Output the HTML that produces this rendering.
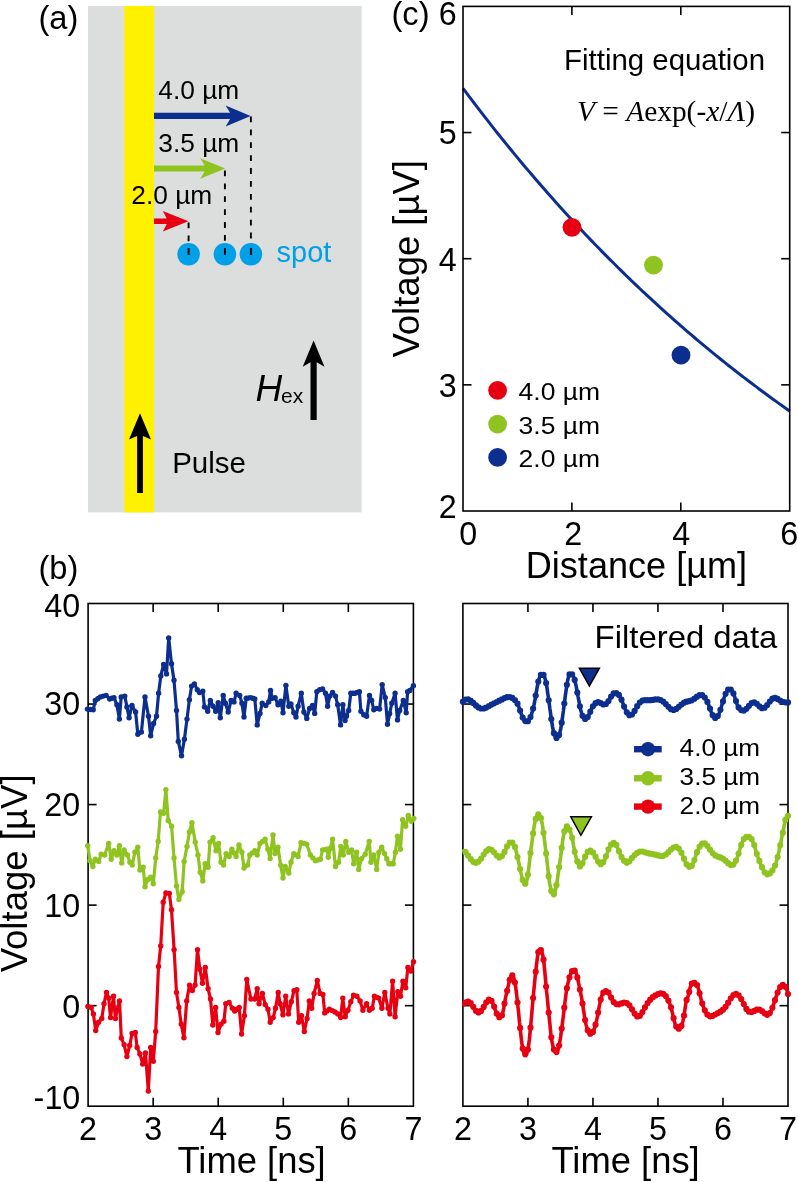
<!DOCTYPE html>
<html><head><meta charset="utf-8"><style>
html,body{margin:0;padding:0;background:#fff;width:798px;height:1182px;overflow:hidden}
svg{display:block;will-change:transform}

</style></head><body>
<svg width="798" height="1182" viewBox="0 0 798 1182"><text transform="translate(38.5,28.6) scale(0.96,1)" font-size="34" font-family="Liberation Sans, sans-serif" text-anchor="start" fill="#000" >(a)</text>
<rect x="88" y="6" width="273.6" height="506.4" fill="#DCDDDD"/>
<rect x="124.3" y="6" width="29.8" height="506.4" fill="#FFF100"/>
<path d="M154,112.85000000000001 L230.1,112.85000000000001 L225.6,105.4 L250.6,115.9 L225.6,126.4 L230.1,118.95 L154,118.95 Z" fill="#0C2E8E"/>
<path d="M154,165.4 L204.7,165.4 L200.2,158.3 L225.2,168.5 L200.2,178.7 L204.7,171.6 L154,171.6 Z" fill="#8FC31F"/>
<path d="M154,218.5 L166.8,218.5 L162.8,211.0 L188.4,221.3 L162.8,231.60000000000002 L166.8,224.10000000000002 L154,224.10000000000002 Z" fill="#E60012"/>
<line x1="250.9" y1="116.5" x2="250.9" y2="255" stroke="#000" stroke-width="1.9" stroke-dasharray="5.8 7.1"/>
<line x1="224.9" y1="170.5" x2="224.9" y2="255" stroke="#000" stroke-width="1.9" stroke-dasharray="5.8 7.1"/>
<line x1="188.6" y1="222.5" x2="188.6" y2="255" stroke="#000" stroke-width="1.9" stroke-dasharray="5.8 7.1"/>
<circle cx="188.6" cy="254.2" r="11.3" fill="#00A0E9"/>
<circle cx="224.9" cy="254.2" r="11.3" fill="#00A0E9"/>
<circle cx="250.9" cy="254.2" r="11.3" fill="#00A0E9"/>
<line x1="188.6" y1="248" x2="188.6" y2="255" stroke="#000" stroke-width="1.9"/>
<line x1="224.9" y1="248" x2="224.9" y2="255" stroke="#000" stroke-width="1.9"/>
<line x1="250.9" y1="248" x2="250.9" y2="255" stroke="#000" stroke-width="1.9"/>
<text x="158.3" y="99" font-size="26.3" font-family="Liberation Sans, sans-serif" text-anchor="start" fill="#000" >4.0 µm</text>
<text x="158.3" y="151.7" font-size="26.3" font-family="Liberation Sans, sans-serif" text-anchor="start" fill="#000" >3.5 µm</text>
<text x="131.3" y="204.4" font-size="26.3" font-family="Liberation Sans, sans-serif" text-anchor="start" fill="#000" >2.0 µm</text>
<text x="276.5" y="262.2" font-size="29" font-family="Liberation Sans, sans-serif" text-anchor="start" fill="#00A0E9" >spot</text>
<path d="M137.1,493 L137.1,436.0 L129,439.5 L140,413.2 L151,439.5 L142.9,436.0 L142.9,493 Z" fill="#000"/>
<path d="M310.5,420 L310.5,362.3 L302.70000000000005,366.7 L313.6,340.4 L324.5,366.7 L316.70000000000005,362.3 L316.70000000000005,420 Z" fill="#000"/>
<text x="255.5" y="400.7" font-size="37" font-family="Liberation Sans, sans-serif" text-anchor="start" fill="#000" font-style="italic">H</text>
<text x="281" y="402.5" font-size="21" font-family="Liberation Sans, sans-serif" text-anchor="start" fill="#000" >ex</text>
<text x="172.2" y="472.6" font-size="29.5" font-family="Liberation Sans, sans-serif" text-anchor="start" fill="#000" >Pulse</text>
<polyline points="463.00,88.30 465.72,91.95 468.44,95.57 471.17,99.18 473.89,102.77 476.61,106.35 479.33,109.90 482.06,113.43 484.78,116.94 487.50,120.44 490.23,123.91 492.95,127.37 495.67,130.81 498.39,134.23 501.12,137.63 503.84,141.01 506.56,144.37 509.28,147.72 512.00,151.05 514.73,154.36 517.45,157.65 520.17,160.92 522.89,164.18 525.62,167.42 528.34,170.64 531.06,173.84 533.78,177.03 536.51,180.20 539.23,183.35 541.95,186.49 544.67,189.60 547.40,192.71 550.12,195.79 552.84,198.86 555.57,201.91 558.29,204.94 561.01,207.96 563.73,210.97 566.46,213.95 569.18,216.92 571.90,219.87 574.62,222.81 577.35,225.73 580.07,228.64 582.79,231.53 585.51,234.41 588.24,237.26 590.96,240.11 593.68,242.94 596.40,245.75 599.12,248.55 601.85,251.33 604.57,254.10 607.29,256.85 610.01,259.59 612.74,262.31 615.46,265.02 618.18,267.71 620.91,270.39 623.63,273.06 626.35,275.71 629.07,278.34 631.80,280.97 634.52,283.57 637.24,286.17 639.96,288.75 642.69,291.31 645.41,293.86 648.13,296.40 650.85,298.92 653.58,301.43 656.30,303.93 659.02,306.42 661.74,308.88 664.47,311.34 667.19,313.78 669.91,316.21 672.63,318.63 675.36,321.04 678.08,323.43 680.80,325.80 683.52,328.17 686.25,330.52 688.97,332.86 691.69,335.19 694.41,337.50 697.13,339.80 699.86,342.09 702.58,344.37 705.30,346.64 708.02,348.89 710.75,351.13 713.47,353.36 716.19,355.57 718.92,357.78 721.64,359.97 724.36,362.15 727.08,364.32 729.81,366.48 732.53,368.62 735.25,370.75 737.97,372.88 740.70,374.99 743.42,377.09 746.14,379.17 748.86,381.25 751.59,383.32 754.31,385.37 757.03,387.41 759.75,389.45 762.48,391.47 765.20,393.48 767.92,395.48 770.64,397.46 773.37,399.44 776.09,401.41 778.81,403.37 781.53,405.31 784.26,407.25 786.98,409.17 789.70,411.09" fill="none" stroke="#0C2E8E" stroke-width="3.0"/>
<rect x="463" y="6.4" width="326.70000000000005" height="504.6" fill="none" stroke="#000" stroke-width="1.6"/>
<line x1="463" y1="384.85" x2="471.5" y2="384.85" stroke="#000" stroke-width="1.6"/>
<line x1="789.7" y1="384.85" x2="781.2" y2="384.85" stroke="#000" stroke-width="1.6"/>
<line x1="463" y1="258.7" x2="471.5" y2="258.7" stroke="#000" stroke-width="1.6"/>
<line x1="789.7" y1="258.7" x2="781.2" y2="258.7" stroke="#000" stroke-width="1.6"/>
<line x1="463" y1="132.54999999999995" x2="471.5" y2="132.54999999999995" stroke="#000" stroke-width="1.6"/>
<line x1="789.7" y1="132.54999999999995" x2="781.2" y2="132.54999999999995" stroke="#000" stroke-width="1.6"/>
<line x1="571.9" y1="511" x2="571.9" y2="502.5" stroke="#000" stroke-width="1.6"/>
<line x1="571.9" y1="6.4" x2="571.9" y2="14.9" stroke="#000" stroke-width="1.6"/>
<line x1="680.8000000000001" y1="511" x2="680.8000000000001" y2="502.5" stroke="#000" stroke-width="1.6"/>
<line x1="680.8000000000001" y1="6.4" x2="680.8000000000001" y2="14.9" stroke="#000" stroke-width="1.6"/>
<text transform="translate(391.5,25.3) scale(0.96,1)" font-size="34" font-family="Liberation Sans, sans-serif" text-anchor="start" fill="#000" >(c)</text>
<text transform="translate(456.6,24.5) scale(0.95,1)" font-size="34" font-family="Liberation Sans, sans-serif" text-anchor="end" fill="#000" >6</text>
<text transform="translate(456.6,144) scale(0.95,1)" font-size="34" font-family="Liberation Sans, sans-serif" text-anchor="end" fill="#000" >5</text>
<text transform="translate(456.6,270.7) scale(0.95,1)" font-size="34" font-family="Liberation Sans, sans-serif" text-anchor="end" fill="#000" >4</text>
<text transform="translate(456.6,396.7) scale(0.95,1)" font-size="34" font-family="Liberation Sans, sans-serif" text-anchor="end" fill="#000" >3</text>
<text transform="translate(456.6,517.5) scale(0.95,1)" font-size="34" font-family="Liberation Sans, sans-serif" text-anchor="end" fill="#000" >2</text>
<text transform="translate(468.2,544.6) scale(0.95,1)" font-size="34" font-family="Liberation Sans, sans-serif" text-anchor="middle" fill="#000" >0</text>
<text transform="translate(573.3,544.6) scale(0.95,1)" font-size="34" font-family="Liberation Sans, sans-serif" text-anchor="middle" fill="#000" >2</text>
<text transform="translate(681.2,544.6) scale(0.95,1)" font-size="34" font-family="Liberation Sans, sans-serif" text-anchor="middle" fill="#000" >4</text>
<text transform="translate(789.2,544.6) scale(0.95,1)" font-size="34" font-family="Liberation Sans, sans-serif" text-anchor="middle" fill="#000" >6</text>
<text x="636.4" y="577.8" font-size="36.1" font-family="Liberation Sans, sans-serif" text-anchor="middle" fill="#000" >Distance [µm]</text>
<text transform="translate(419.4,258.75) rotate(-90)" font-size="37.8" font-family="Liberation Sans, sans-serif" text-anchor="middle" textLength="197.5" lengthAdjust="spacingAndGlyphs">Voltage [µV]</text>
<text x="664.6" y="70" font-size="29.4" font-family="Liberation Sans, sans-serif" text-anchor="middle" fill="#000" >Fitting equation</text>
<text x="577" y="121" font-size="29.4" font-family="Liberation Serif, serif"><tspan font-style="italic">V</tspan> = <tspan font-style="italic">A</tspan>exp(-<tspan font-style="italic">x</tspan>/<tspan font-style="italic">Λ</tspan>)</text>
<circle cx="572.0" cy="227.3" r="9.4" fill="#E60012"/>
<circle cx="653.5" cy="265.2" r="9.4" fill="#8FC31F"/>
<circle cx="681.0" cy="355.2" r="9.4" fill="#0C2E8E"/>
<circle cx="497.6" cy="390.3" r="9.4" fill="#E60012"/>
<text x="518.6" y="400.0" font-size="23.5" font-family="Liberation Sans, sans-serif" text-anchor="start" fill="#000" textLength="81.5" lengthAdjust="spacingAndGlyphs" >4.0 µm</text>
<circle cx="497.6" cy="424.1" r="9.4" fill="#8FC31F"/>
<text x="518.6" y="433.8" font-size="23.5" font-family="Liberation Sans, sans-serif" text-anchor="start" fill="#000" textLength="81.5" lengthAdjust="spacingAndGlyphs" >3.5 µm</text>
<circle cx="497.6" cy="457.4" r="9.4" fill="#0C2E8E"/>
<text x="518.6" y="467.09999999999997" font-size="23.5" font-family="Liberation Sans, sans-serif" text-anchor="start" fill="#000" textLength="81.5" lengthAdjust="spacingAndGlyphs" >2.0 µm</text>
<rect x="88.1" y="603.5" width="325.29999999999995" height="502.70000000000005" fill="none" stroke="#000" stroke-width="1.6"/>
<line x1="88.1" y1="704.04" x2="96.6" y2="704.04" stroke="#000" stroke-width="1.6"/>
<line x1="413.4" y1="704.04" x2="404.9" y2="704.04" stroke="#000" stroke-width="1.6"/>
<line x1="88.1" y1="804.58" x2="96.6" y2="804.58" stroke="#000" stroke-width="1.6"/>
<line x1="413.4" y1="804.58" x2="404.9" y2="804.58" stroke="#000" stroke-width="1.6"/>
<line x1="88.1" y1="905.1200000000001" x2="96.6" y2="905.1200000000001" stroke="#000" stroke-width="1.6"/>
<line x1="413.4" y1="905.1200000000001" x2="404.9" y2="905.1200000000001" stroke="#000" stroke-width="1.6"/>
<line x1="88.1" y1="1005.6600000000001" x2="96.6" y2="1005.6600000000001" stroke="#000" stroke-width="1.6"/>
<line x1="413.4" y1="1005.6600000000001" x2="404.9" y2="1005.6600000000001" stroke="#000" stroke-width="1.6"/>
<line x1="153.15999999999997" y1="1106.2" x2="153.15999999999997" y2="1097.7" stroke="#000" stroke-width="1.6"/>
<line x1="153.15999999999997" y1="603.5" x2="153.15999999999997" y2="612.0" stroke="#000" stroke-width="1.6"/>
<line x1="218.21999999999997" y1="1106.2" x2="218.21999999999997" y2="1097.7" stroke="#000" stroke-width="1.6"/>
<line x1="218.21999999999997" y1="603.5" x2="218.21999999999997" y2="612.0" stroke="#000" stroke-width="1.6"/>
<line x1="283.28" y1="1106.2" x2="283.28" y2="1097.7" stroke="#000" stroke-width="1.6"/>
<line x1="283.28" y1="603.5" x2="283.28" y2="612.0" stroke="#000" stroke-width="1.6"/>
<line x1="348.3399999999999" y1="1106.2" x2="348.3399999999999" y2="1097.7" stroke="#000" stroke-width="1.6"/>
<line x1="348.3399999999999" y1="603.5" x2="348.3399999999999" y2="612.0" stroke="#000" stroke-width="1.6"/>
<text transform="translate(88.1,1140.2) scale(0.95,1)" font-size="34" font-family="Liberation Sans, sans-serif" text-anchor="middle" fill="#000" >2</text>
<text transform="translate(153.15999999999997,1140.2) scale(0.95,1)" font-size="34" font-family="Liberation Sans, sans-serif" text-anchor="middle" fill="#000" >3</text>
<text transform="translate(218.21999999999997,1140.2) scale(0.95,1)" font-size="34" font-family="Liberation Sans, sans-serif" text-anchor="middle" fill="#000" >4</text>
<text transform="translate(283.28,1140.2) scale(0.95,1)" font-size="34" font-family="Liberation Sans, sans-serif" text-anchor="middle" fill="#000" >5</text>
<text transform="translate(348.3399999999999,1140.2) scale(0.95,1)" font-size="34" font-family="Liberation Sans, sans-serif" text-anchor="middle" fill="#000" >6</text>
<text transform="translate(413.4,1140.2) scale(0.95,1)" font-size="34" font-family="Liberation Sans, sans-serif" text-anchor="middle" fill="#000" >7</text>
<text x="251.6" y="1172.8" font-size="36.4" font-family="Liberation Sans, sans-serif" text-anchor="middle" fill="#000" >Time [ns]</text>
<text transform="translate(80.3,616.5) scale(0.95,1)" font-size="34" font-family="Liberation Sans, sans-serif" text-anchor="end" fill="#000" >40</text>
<text transform="translate(80.3,715) scale(0.95,1)" font-size="34" font-family="Liberation Sans, sans-serif" text-anchor="end" fill="#000" >30</text>
<text transform="translate(80.3,816.2) scale(0.95,1)" font-size="34" font-family="Liberation Sans, sans-serif" text-anchor="end" fill="#000" >20</text>
<text transform="translate(80.3,916.5) scale(0.95,1)" font-size="34" font-family="Liberation Sans, sans-serif" text-anchor="end" fill="#000" >10</text>
<text transform="translate(80.3,1017.5) scale(0.95,1)" font-size="34" font-family="Liberation Sans, sans-serif" text-anchor="end" fill="#000" >0</text>
<text transform="translate(80.3,1108.8) scale(0.95,1)" font-size="34" font-family="Liberation Sans, sans-serif" text-anchor="end" fill="#000" >-10</text>
<rect x="462.9" y="603.5" width="325.1" height="502.70000000000005" fill="none" stroke="#000" stroke-width="1.6"/>
<line x1="462.9" y1="704.04" x2="471.4" y2="704.04" stroke="#000" stroke-width="1.6"/>
<line x1="788.0" y1="704.04" x2="779.5" y2="704.04" stroke="#000" stroke-width="1.6"/>
<line x1="462.9" y1="804.58" x2="471.4" y2="804.58" stroke="#000" stroke-width="1.6"/>
<line x1="788.0" y1="804.58" x2="779.5" y2="804.58" stroke="#000" stroke-width="1.6"/>
<line x1="462.9" y1="905.1200000000001" x2="471.4" y2="905.1200000000001" stroke="#000" stroke-width="1.6"/>
<line x1="788.0" y1="905.1200000000001" x2="779.5" y2="905.1200000000001" stroke="#000" stroke-width="1.6"/>
<line x1="462.9" y1="1005.6600000000001" x2="471.4" y2="1005.6600000000001" stroke="#000" stroke-width="1.6"/>
<line x1="788.0" y1="1005.6600000000001" x2="779.5" y2="1005.6600000000001" stroke="#000" stroke-width="1.6"/>
<line x1="527.92" y1="1106.2" x2="527.92" y2="1097.7" stroke="#000" stroke-width="1.6"/>
<line x1="527.92" y1="603.5" x2="527.92" y2="612.0" stroke="#000" stroke-width="1.6"/>
<line x1="592.94" y1="1106.2" x2="592.94" y2="1097.7" stroke="#000" stroke-width="1.6"/>
<line x1="592.94" y1="603.5" x2="592.94" y2="612.0" stroke="#000" stroke-width="1.6"/>
<line x1="657.96" y1="1106.2" x2="657.96" y2="1097.7" stroke="#000" stroke-width="1.6"/>
<line x1="657.96" y1="603.5" x2="657.96" y2="612.0" stroke="#000" stroke-width="1.6"/>
<line x1="722.98" y1="1106.2" x2="722.98" y2="1097.7" stroke="#000" stroke-width="1.6"/>
<line x1="722.98" y1="603.5" x2="722.98" y2="612.0" stroke="#000" stroke-width="1.6"/>
<text transform="translate(462.9,1140.2) scale(0.95,1)" font-size="34" font-family="Liberation Sans, sans-serif" text-anchor="middle" fill="#000" >2</text>
<text transform="translate(527.92,1140.2) scale(0.95,1)" font-size="34" font-family="Liberation Sans, sans-serif" text-anchor="middle" fill="#000" >3</text>
<text transform="translate(592.94,1140.2) scale(0.95,1)" font-size="34" font-family="Liberation Sans, sans-serif" text-anchor="middle" fill="#000" >4</text>
<text transform="translate(657.96,1140.2) scale(0.95,1)" font-size="34" font-family="Liberation Sans, sans-serif" text-anchor="middle" fill="#000" >5</text>
<text transform="translate(722.98,1140.2) scale(0.95,1)" font-size="34" font-family="Liberation Sans, sans-serif" text-anchor="middle" fill="#000" >6</text>
<text transform="translate(788.0,1140.2) scale(0.95,1)" font-size="34" font-family="Liberation Sans, sans-serif" text-anchor="middle" fill="#000" >7</text>
<text x="625.6" y="1172.8" font-size="36.4" font-family="Liberation Sans, sans-serif" text-anchor="middle" fill="#000" >Time [ns]</text>
<text transform="translate(38.5,578.6) scale(0.96,1)" font-size="34" font-family="Liberation Sans, sans-serif" text-anchor="start" fill="#000" >(b)</text>
<text transform="translate(27.2,873.35) rotate(-90)" font-size="37.8" font-family="Liberation Sans, sans-serif" text-anchor="middle" textLength="198" lengthAdjust="spacingAndGlyphs">Voltage [µV]</text>
<text x="594.6" y="648.4" font-size="32" font-family="Liberation Sans, sans-serif" text-anchor="start" fill="#000" textLength="182.7" lengthAdjust="spacingAndGlyphs" >Filtered data</text>
<line x1="634" y1="749.2" x2="661.7" y2="749.2" stroke="#0C2E8E" stroke-width="6.4"/>
<circle cx="648" cy="749.2" r="7.2" fill="#0C2E8E"/>
<text x="679.6" y="756.2" font-size="23.5" font-family="Liberation Sans, sans-serif" text-anchor="start" fill="#000" textLength="80.5" lengthAdjust="spacingAndGlyphs" >4.0 µm</text>
<line x1="634" y1="778.3" x2="661.7" y2="778.3" stroke="#8FC31F" stroke-width="6.4"/>
<circle cx="648" cy="778.3" r="7.2" fill="#8FC31F"/>
<text x="679.6" y="785.3" font-size="23.5" font-family="Liberation Sans, sans-serif" text-anchor="start" fill="#000" textLength="80.5" lengthAdjust="spacingAndGlyphs" >3.5 µm</text>
<line x1="634" y1="806.6" x2="661.7" y2="806.6" stroke="#E60012" stroke-width="6.4"/>
<circle cx="648" cy="806.6" r="7.2" fill="#E60012"/>
<text x="679.6" y="813.6" font-size="23.5" font-family="Liberation Sans, sans-serif" text-anchor="start" fill="#000" textLength="80.5" lengthAdjust="spacingAndGlyphs" >2.0 µm</text>
<path d="M579.4,668.2 L599.4,668.2 L589.4,686 Z" fill="#0C2E8E" stroke="#000" stroke-width="1.5"/>
<polyline points="87.4,709.1 93.2,709.8 95.3,700.5 100.4,696.9 106.1,695.4 109.7,699.0 114.0,697.6 116.9,704.8 119.4,719.1 121.2,696.9 124.8,696.1 129.1,717.7 132.0,705.5 135.6,712.0 137.8,734.2 141.4,732.1 145.0,696.9 148.5,716.3 150.7,735.7 153.6,723.5 156.5,716.3 158.6,693.3 160.8,676.0 163.6,664.5 166.5,673.9 168.7,637.9 171.5,663.8 174.0,680.3 176.5,710.5 178.3,741.4 181.5,755.8 184.4,739.3 187.0,719.1 189.4,699.7 191.6,686.1 194.4,683.9 197.3,689.7 199.5,692.5 202.8,691.1 204.5,706.9 207.7,711.2 210.3,700.5 213.1,706.2 215.7,711.2 218.2,702.6 220.3,717.7 223.2,695.4 225.4,703.3 228.2,712.0 231.1,700.5 234.0,701.9 236.1,693.3 239.7,695.4 241.9,703.3 244.0,717.0 246.2,698.3 250.5,697.6 254.8,699.0 257.2,724.9 260.0,713.4 262.2,703.3 265.8,705.5 268.7,701.9 270.5,690.4 272.3,698.3 275.1,697.6 278.0,704.8 280.9,701.2 283.0,712.7 285.9,685.4 288.8,706.2 291.0,704.0 293.8,712.7 296.0,717.0 298.1,706.2 301.3,693.3 303.9,712.0 306.8,718.4 309.6,708.4 312.5,705.5 314.7,713.4 316.8,691.8 319.7,689.7 322.6,689.0 325.5,693.3 327.6,706.2 329.8,696.1 332.6,692.5 335.5,696.1 337.7,704.8 340.5,724.9 342.9,704.8 345.1,720.6 346.5,716.3 348.7,710.5 350.8,693.3 355.1,693.3 359.4,691.8 360.9,711.2 363.8,714.8 366.6,716.3 369.5,695.4 371.7,700.5 373.8,709.8 376.7,708.4 379.6,709.1 382.2,684.6 385.3,697.6 387.5,724.2 391.8,703.3 395.1,693.3 397.5,719.9 399.7,710.5 403.3,700.5 406.2,712.7 407.6,691.8 409.8,690.4 413.4,685.8" fill="none" stroke="#0C2E8E" stroke-width="3.2" stroke-linejoin="round"/>
<path d="M84.7,709.1a2.7,2.7 0 1,0 5.4,0a2.7,2.7 0 1,0 -5.4,0M87.6,709.5a2.7,2.7 0 1,0 5.4,0a2.7,2.7 0 1,0 -5.4,0M90.5,709.8a2.7,2.7 0 1,0 5.4,0a2.7,2.7 0 1,0 -5.4,0M92.6,700.5a2.7,2.7 0 1,0 5.4,0a2.7,2.7 0 1,0 -5.4,0M95.1,698.7a2.7,2.7 0 1,0 5.4,0a2.7,2.7 0 1,0 -5.4,0M97.7,696.9a2.7,2.7 0 1,0 5.4,0a2.7,2.7 0 1,0 -5.4,0M100.5,696.1a2.7,2.7 0 1,0 5.4,0a2.7,2.7 0 1,0 -5.4,0M103.4,695.4a2.7,2.7 0 1,0 5.4,0a2.7,2.7 0 1,0 -5.4,0M107.0,699.0a2.7,2.7 0 1,0 5.4,0a2.7,2.7 0 1,0 -5.4,0M109.1,698.3a2.7,2.7 0 1,0 5.4,0a2.7,2.7 0 1,0 -5.4,0M111.3,697.6a2.7,2.7 0 1,0 5.4,0a2.7,2.7 0 1,0 -5.4,0M114.2,704.8a2.7,2.7 0 1,0 5.4,0a2.7,2.7 0 1,0 -5.4,0M116.7,719.1a2.7,2.7 0 1,0 5.4,0a2.7,2.7 0 1,0 -5.4,0M118.5,696.9a2.7,2.7 0 1,0 5.4,0a2.7,2.7 0 1,0 -5.4,0M122.1,696.1a2.7,2.7 0 1,0 5.4,0a2.7,2.7 0 1,0 -5.4,0M124.2,706.9a2.7,2.7 0 1,0 5.4,0a2.7,2.7 0 1,0 -5.4,0M126.4,717.7a2.7,2.7 0 1,0 5.4,0a2.7,2.7 0 1,0 -5.4,0M129.3,705.5a2.7,2.7 0 1,0 5.4,0a2.7,2.7 0 1,0 -5.4,0M132.9,712.0a2.7,2.7 0 1,0 5.4,0a2.7,2.7 0 1,0 -5.4,0M135.1,734.2a2.7,2.7 0 1,0 5.4,0a2.7,2.7 0 1,0 -5.4,0M138.7,732.1a2.7,2.7 0 1,0 5.4,0a2.7,2.7 0 1,0 -5.4,0M142.3,696.9a2.7,2.7 0 1,0 5.4,0a2.7,2.7 0 1,0 -5.4,0M145.8,716.3a2.7,2.7 0 1,0 5.4,0a2.7,2.7 0 1,0 -5.4,0M148.0,735.7a2.7,2.7 0 1,0 5.4,0a2.7,2.7 0 1,0 -5.4,0M150.9,723.5a2.7,2.7 0 1,0 5.4,0a2.7,2.7 0 1,0 -5.4,0M153.8,716.3a2.7,2.7 0 1,0 5.4,0a2.7,2.7 0 1,0 -5.4,0M155.9,693.3a2.7,2.7 0 1,0 5.4,0a2.7,2.7 0 1,0 -5.4,0M158.1,676.0a2.7,2.7 0 1,0 5.4,0a2.7,2.7 0 1,0 -5.4,0M160.9,664.5a2.7,2.7 0 1,0 5.4,0a2.7,2.7 0 1,0 -5.4,0M163.8,673.9a2.7,2.7 0 1,0 5.4,0a2.7,2.7 0 1,0 -5.4,0M166.0,637.9a2.7,2.7 0 1,0 5.4,0a2.7,2.7 0 1,0 -5.4,0M168.8,663.8a2.7,2.7 0 1,0 5.4,0a2.7,2.7 0 1,0 -5.4,0M171.3,680.3a2.7,2.7 0 1,0 5.4,0a2.7,2.7 0 1,0 -5.4,0M173.8,710.5a2.7,2.7 0 1,0 5.4,0a2.7,2.7 0 1,0 -5.4,0M175.6,741.4a2.7,2.7 0 1,0 5.4,0a2.7,2.7 0 1,0 -5.4,0M178.8,755.8a2.7,2.7 0 1,0 5.4,0a2.7,2.7 0 1,0 -5.4,0M181.7,739.3a2.7,2.7 0 1,0 5.4,0a2.7,2.7 0 1,0 -5.4,0M184.3,719.1a2.7,2.7 0 1,0 5.4,0a2.7,2.7 0 1,0 -5.4,0M186.7,699.7a2.7,2.7 0 1,0 5.4,0a2.7,2.7 0 1,0 -5.4,0M188.9,686.1a2.7,2.7 0 1,0 5.4,0a2.7,2.7 0 1,0 -5.4,0M191.7,683.9a2.7,2.7 0 1,0 5.4,0a2.7,2.7 0 1,0 -5.4,0M194.6,689.7a2.7,2.7 0 1,0 5.4,0a2.7,2.7 0 1,0 -5.4,0M196.8,692.5a2.7,2.7 0 1,0 5.4,0a2.7,2.7 0 1,0 -5.4,0M200.1,691.1a2.7,2.7 0 1,0 5.4,0a2.7,2.7 0 1,0 -5.4,0M201.8,706.9a2.7,2.7 0 1,0 5.4,0a2.7,2.7 0 1,0 -5.4,0M205.0,711.2a2.7,2.7 0 1,0 5.4,0a2.7,2.7 0 1,0 -5.4,0M207.6,700.5a2.7,2.7 0 1,0 5.4,0a2.7,2.7 0 1,0 -5.4,0M210.4,706.2a2.7,2.7 0 1,0 5.4,0a2.7,2.7 0 1,0 -5.4,0M213.0,711.2a2.7,2.7 0 1,0 5.4,0a2.7,2.7 0 1,0 -5.4,0M215.5,702.6a2.7,2.7 0 1,0 5.4,0a2.7,2.7 0 1,0 -5.4,0M217.6,717.7a2.7,2.7 0 1,0 5.4,0a2.7,2.7 0 1,0 -5.4,0M220.5,695.4a2.7,2.7 0 1,0 5.4,0a2.7,2.7 0 1,0 -5.4,0M222.7,703.3a2.7,2.7 0 1,0 5.4,0a2.7,2.7 0 1,0 -5.4,0M225.5,712.0a2.7,2.7 0 1,0 5.4,0a2.7,2.7 0 1,0 -5.4,0M228.4,700.5a2.7,2.7 0 1,0 5.4,0a2.7,2.7 0 1,0 -5.4,0M231.3,701.9a2.7,2.7 0 1,0 5.4,0a2.7,2.7 0 1,0 -5.4,0M233.4,693.3a2.7,2.7 0 1,0 5.4,0a2.7,2.7 0 1,0 -5.4,0M237.0,695.4a2.7,2.7 0 1,0 5.4,0a2.7,2.7 0 1,0 -5.4,0M239.2,703.3a2.7,2.7 0 1,0 5.4,0a2.7,2.7 0 1,0 -5.4,0M241.3,717.0a2.7,2.7 0 1,0 5.4,0a2.7,2.7 0 1,0 -5.4,0M243.5,698.3a2.7,2.7 0 1,0 5.4,0a2.7,2.7 0 1,0 -5.4,0M245.7,698.0a2.7,2.7 0 1,0 5.4,0a2.7,2.7 0 1,0 -5.4,0M247.8,697.6a2.7,2.7 0 1,0 5.4,0a2.7,2.7 0 1,0 -5.4,0M250.0,698.3a2.7,2.7 0 1,0 5.4,0a2.7,2.7 0 1,0 -5.4,0M252.1,699.0a2.7,2.7 0 1,0 5.4,0a2.7,2.7 0 1,0 -5.4,0M254.5,724.9a2.7,2.7 0 1,0 5.4,0a2.7,2.7 0 1,0 -5.4,0M257.3,713.4a2.7,2.7 0 1,0 5.4,0a2.7,2.7 0 1,0 -5.4,0M259.5,703.3a2.7,2.7 0 1,0 5.4,0a2.7,2.7 0 1,0 -5.4,0M263.1,705.5a2.7,2.7 0 1,0 5.4,0a2.7,2.7 0 1,0 -5.4,0M266.0,701.9a2.7,2.7 0 1,0 5.4,0a2.7,2.7 0 1,0 -5.4,0M267.8,690.4a2.7,2.7 0 1,0 5.4,0a2.7,2.7 0 1,0 -5.4,0M269.6,698.3a2.7,2.7 0 1,0 5.4,0a2.7,2.7 0 1,0 -5.4,0M272.4,697.6a2.7,2.7 0 1,0 5.4,0a2.7,2.7 0 1,0 -5.4,0M275.3,704.8a2.7,2.7 0 1,0 5.4,0a2.7,2.7 0 1,0 -5.4,0M278.2,701.2a2.7,2.7 0 1,0 5.4,0a2.7,2.7 0 1,0 -5.4,0M280.3,712.7a2.7,2.7 0 1,0 5.4,0a2.7,2.7 0 1,0 -5.4,0M283.2,685.4a2.7,2.7 0 1,0 5.4,0a2.7,2.7 0 1,0 -5.4,0M286.1,706.2a2.7,2.7 0 1,0 5.4,0a2.7,2.7 0 1,0 -5.4,0M288.3,704.0a2.7,2.7 0 1,0 5.4,0a2.7,2.7 0 1,0 -5.4,0M291.1,712.7a2.7,2.7 0 1,0 5.4,0a2.7,2.7 0 1,0 -5.4,0M293.3,717.0a2.7,2.7 0 1,0 5.4,0a2.7,2.7 0 1,0 -5.4,0M295.4,706.2a2.7,2.7 0 1,0 5.4,0a2.7,2.7 0 1,0 -5.4,0M298.6,693.3a2.7,2.7 0 1,0 5.4,0a2.7,2.7 0 1,0 -5.4,0M301.2,712.0a2.7,2.7 0 1,0 5.4,0a2.7,2.7 0 1,0 -5.4,0M304.1,718.4a2.7,2.7 0 1,0 5.4,0a2.7,2.7 0 1,0 -5.4,0M306.9,708.4a2.7,2.7 0 1,0 5.4,0a2.7,2.7 0 1,0 -5.4,0M309.8,705.5a2.7,2.7 0 1,0 5.4,0a2.7,2.7 0 1,0 -5.4,0M312.0,713.4a2.7,2.7 0 1,0 5.4,0a2.7,2.7 0 1,0 -5.4,0M314.1,691.8a2.7,2.7 0 1,0 5.4,0a2.7,2.7 0 1,0 -5.4,0M317.0,689.7a2.7,2.7 0 1,0 5.4,0a2.7,2.7 0 1,0 -5.4,0M319.9,689.0a2.7,2.7 0 1,0 5.4,0a2.7,2.7 0 1,0 -5.4,0M322.8,693.3a2.7,2.7 0 1,0 5.4,0a2.7,2.7 0 1,0 -5.4,0M324.9,706.2a2.7,2.7 0 1,0 5.4,0a2.7,2.7 0 1,0 -5.4,0M327.1,696.1a2.7,2.7 0 1,0 5.4,0a2.7,2.7 0 1,0 -5.4,0M329.9,692.5a2.7,2.7 0 1,0 5.4,0a2.7,2.7 0 1,0 -5.4,0M332.8,696.1a2.7,2.7 0 1,0 5.4,0a2.7,2.7 0 1,0 -5.4,0M335.0,704.8a2.7,2.7 0 1,0 5.4,0a2.7,2.7 0 1,0 -5.4,0M337.8,724.9a2.7,2.7 0 1,0 5.4,0a2.7,2.7 0 1,0 -5.4,0M340.2,704.8a2.7,2.7 0 1,0 5.4,0a2.7,2.7 0 1,0 -5.4,0M342.4,720.6a2.7,2.7 0 1,0 5.4,0a2.7,2.7 0 1,0 -5.4,0M343.8,716.3a2.7,2.7 0 1,0 5.4,0a2.7,2.7 0 1,0 -5.4,0M346.0,710.5a2.7,2.7 0 1,0 5.4,0a2.7,2.7 0 1,0 -5.4,0M348.1,693.3a2.7,2.7 0 1,0 5.4,0a2.7,2.7 0 1,0 -5.4,0M350.3,693.3a2.7,2.7 0 1,0 5.4,0a2.7,2.7 0 1,0 -5.4,0M352.4,693.3a2.7,2.7 0 1,0 5.4,0a2.7,2.7 0 1,0 -5.4,0M354.6,692.5a2.7,2.7 0 1,0 5.4,0a2.7,2.7 0 1,0 -5.4,0M356.7,691.8a2.7,2.7 0 1,0 5.4,0a2.7,2.7 0 1,0 -5.4,0M358.2,711.2a2.7,2.7 0 1,0 5.4,0a2.7,2.7 0 1,0 -5.4,0M361.1,714.8a2.7,2.7 0 1,0 5.4,0a2.7,2.7 0 1,0 -5.4,0M363.9,716.3a2.7,2.7 0 1,0 5.4,0a2.7,2.7 0 1,0 -5.4,0M366.8,695.4a2.7,2.7 0 1,0 5.4,0a2.7,2.7 0 1,0 -5.4,0M369.0,700.5a2.7,2.7 0 1,0 5.4,0a2.7,2.7 0 1,0 -5.4,0M371.1,709.8a2.7,2.7 0 1,0 5.4,0a2.7,2.7 0 1,0 -5.4,0M374.0,708.4a2.7,2.7 0 1,0 5.4,0a2.7,2.7 0 1,0 -5.4,0M376.9,709.1a2.7,2.7 0 1,0 5.4,0a2.7,2.7 0 1,0 -5.4,0M379.5,684.6a2.7,2.7 0 1,0 5.4,0a2.7,2.7 0 1,0 -5.4,0M382.6,697.6a2.7,2.7 0 1,0 5.4,0a2.7,2.7 0 1,0 -5.4,0M384.8,724.2a2.7,2.7 0 1,0 5.4,0a2.7,2.7 0 1,0 -5.4,0M386.9,713.8a2.7,2.7 0 1,0 5.4,0a2.7,2.7 0 1,0 -5.4,0M389.1,703.3a2.7,2.7 0 1,0 5.4,0a2.7,2.7 0 1,0 -5.4,0M392.4,693.3a2.7,2.7 0 1,0 5.4,0a2.7,2.7 0 1,0 -5.4,0M394.8,719.9a2.7,2.7 0 1,0 5.4,0a2.7,2.7 0 1,0 -5.4,0M397.0,710.5a2.7,2.7 0 1,0 5.4,0a2.7,2.7 0 1,0 -5.4,0M400.6,700.5a2.7,2.7 0 1,0 5.4,0a2.7,2.7 0 1,0 -5.4,0M403.5,712.7a2.7,2.7 0 1,0 5.4,0a2.7,2.7 0 1,0 -5.4,0M404.9,691.8a2.7,2.7 0 1,0 5.4,0a2.7,2.7 0 1,0 -5.4,0M407.1,690.4a2.7,2.7 0 1,0 5.4,0a2.7,2.7 0 1,0 -5.4,0M410.7,685.8a2.7,2.7 0 1,0 5.4,0a2.7,2.7 0 1,0 -5.4,0" fill="#0C2E8E"/>
<polyline points="87.7,845.7 90.0,860.8 92.9,866.5 95.3,859.3 98.7,861.5 101.1,854.3 104.7,855.0 108.7,843.5 111.2,859.3 114.0,850.7 116.9,855.0 119.4,845.7 121.7,862.9 124.1,850.0 127.4,855.0 129.9,862.2 132.3,865.1 134.9,852.2 137.8,847.1 139.9,870.1 143.2,867.2 145.0,886.7 147.8,879.5 150.7,877.3 153.3,883.8 155.7,857.9 158.2,841.4 160.5,811.9 163.6,813.3 165.9,789.6 168.2,820.5 171.6,826.3 174.0,857.9 176.5,885.9 178.9,899.6 182.2,891.7 184.1,861.5 187.0,846.4 189.4,832.0 191.9,822.7 195.2,842.1 198.0,855.0 200.2,872.3 202.8,880.9 205.2,863.7 208.1,867.2 210.0,842.1 213.1,837.8 216.0,850.7 218.6,843.5 221.0,862.2 223.5,865.1 226.1,853.6 229.2,856.5 231.8,849.3 236.1,856.5 239.0,845.0 241.9,852.2 244.0,868.0 247.6,865.1 249.8,855.0 254.8,850.7 257.2,855.0 260.0,843.5 265.1,839.2 267.9,849.3 270.1,858.6 273.0,834.9 275.1,853.6 278.0,847.1 280.6,865.1 283.0,878.0 285.2,866.5 288.8,873.0 291.0,862.2 293.8,853.6 298.1,856.5 301.0,842.8 306.8,844.2 310.4,855.0 315.4,860.8 320.4,859.3 322.6,850.0 326.9,849.3 328.3,857.2 332.6,839.2 335.5,866.5 338.6,862.2 340.8,846.4 343.3,855.0 345.8,841.4 348.7,852.2 351.5,850.0 353.7,863.7 356.6,852.2 358.7,869.4 361.6,858.6 365.2,854.3 369.2,841.4 370.9,862.2 373.8,855.0 376.7,869.4 378.9,852.2 381.7,847.1 384.6,853.6 388.9,863.7 393.2,863.7 395.4,852.2 397.5,836.3 400.4,849.3 402.6,819.8 405.7,826.3 408.3,815.5 411.2,821.2 413.8,818.4" fill="none" stroke="#8FC31F" stroke-width="3.2" stroke-linejoin="round"/>
<path d="M85.0,845.7a2.7,2.7 0 1,0 5.4,0a2.7,2.7 0 1,0 -5.4,0M87.3,860.8a2.7,2.7 0 1,0 5.4,0a2.7,2.7 0 1,0 -5.4,0M90.2,866.5a2.7,2.7 0 1,0 5.4,0a2.7,2.7 0 1,0 -5.4,0M92.6,859.3a2.7,2.7 0 1,0 5.4,0a2.7,2.7 0 1,0 -5.4,0M96.0,861.5a2.7,2.7 0 1,0 5.4,0a2.7,2.7 0 1,0 -5.4,0M98.4,854.3a2.7,2.7 0 1,0 5.4,0a2.7,2.7 0 1,0 -5.4,0M102.0,855.0a2.7,2.7 0 1,0 5.4,0a2.7,2.7 0 1,0 -5.4,0M106.0,843.5a2.7,2.7 0 1,0 5.4,0a2.7,2.7 0 1,0 -5.4,0M108.5,859.3a2.7,2.7 0 1,0 5.4,0a2.7,2.7 0 1,0 -5.4,0M111.3,850.7a2.7,2.7 0 1,0 5.4,0a2.7,2.7 0 1,0 -5.4,0M114.2,855.0a2.7,2.7 0 1,0 5.4,0a2.7,2.7 0 1,0 -5.4,0M116.7,845.7a2.7,2.7 0 1,0 5.4,0a2.7,2.7 0 1,0 -5.4,0M119.0,862.9a2.7,2.7 0 1,0 5.4,0a2.7,2.7 0 1,0 -5.4,0M121.4,850.0a2.7,2.7 0 1,0 5.4,0a2.7,2.7 0 1,0 -5.4,0M124.7,855.0a2.7,2.7 0 1,0 5.4,0a2.7,2.7 0 1,0 -5.4,0M127.2,862.2a2.7,2.7 0 1,0 5.4,0a2.7,2.7 0 1,0 -5.4,0M129.6,865.1a2.7,2.7 0 1,0 5.4,0a2.7,2.7 0 1,0 -5.4,0M132.2,852.2a2.7,2.7 0 1,0 5.4,0a2.7,2.7 0 1,0 -5.4,0M135.1,847.1a2.7,2.7 0 1,0 5.4,0a2.7,2.7 0 1,0 -5.4,0M137.2,870.1a2.7,2.7 0 1,0 5.4,0a2.7,2.7 0 1,0 -5.4,0M140.5,867.2a2.7,2.7 0 1,0 5.4,0a2.7,2.7 0 1,0 -5.4,0M142.3,886.7a2.7,2.7 0 1,0 5.4,0a2.7,2.7 0 1,0 -5.4,0M145.1,879.5a2.7,2.7 0 1,0 5.4,0a2.7,2.7 0 1,0 -5.4,0M148.0,877.3a2.7,2.7 0 1,0 5.4,0a2.7,2.7 0 1,0 -5.4,0M150.6,883.8a2.7,2.7 0 1,0 5.4,0a2.7,2.7 0 1,0 -5.4,0M153.0,857.9a2.7,2.7 0 1,0 5.4,0a2.7,2.7 0 1,0 -5.4,0M155.5,841.4a2.7,2.7 0 1,0 5.4,0a2.7,2.7 0 1,0 -5.4,0M157.8,811.9a2.7,2.7 0 1,0 5.4,0a2.7,2.7 0 1,0 -5.4,0M160.9,813.3a2.7,2.7 0 1,0 5.4,0a2.7,2.7 0 1,0 -5.4,0M163.2,789.6a2.7,2.7 0 1,0 5.4,0a2.7,2.7 0 1,0 -5.4,0M165.5,820.5a2.7,2.7 0 1,0 5.4,0a2.7,2.7 0 1,0 -5.4,0M168.9,826.3a2.7,2.7 0 1,0 5.4,0a2.7,2.7 0 1,0 -5.4,0M171.3,857.9a2.7,2.7 0 1,0 5.4,0a2.7,2.7 0 1,0 -5.4,0M173.8,885.9a2.7,2.7 0 1,0 5.4,0a2.7,2.7 0 1,0 -5.4,0M176.2,899.6a2.7,2.7 0 1,0 5.4,0a2.7,2.7 0 1,0 -5.4,0M179.5,891.7a2.7,2.7 0 1,0 5.4,0a2.7,2.7 0 1,0 -5.4,0M181.4,861.5a2.7,2.7 0 1,0 5.4,0a2.7,2.7 0 1,0 -5.4,0M184.3,846.4a2.7,2.7 0 1,0 5.4,0a2.7,2.7 0 1,0 -5.4,0M186.7,832.0a2.7,2.7 0 1,0 5.4,0a2.7,2.7 0 1,0 -5.4,0M189.2,822.7a2.7,2.7 0 1,0 5.4,0a2.7,2.7 0 1,0 -5.4,0M192.5,842.1a2.7,2.7 0 1,0 5.4,0a2.7,2.7 0 1,0 -5.4,0M195.3,855.0a2.7,2.7 0 1,0 5.4,0a2.7,2.7 0 1,0 -5.4,0M197.5,872.3a2.7,2.7 0 1,0 5.4,0a2.7,2.7 0 1,0 -5.4,0M200.1,880.9a2.7,2.7 0 1,0 5.4,0a2.7,2.7 0 1,0 -5.4,0M202.5,863.7a2.7,2.7 0 1,0 5.4,0a2.7,2.7 0 1,0 -5.4,0M205.4,867.2a2.7,2.7 0 1,0 5.4,0a2.7,2.7 0 1,0 -5.4,0M207.3,842.1a2.7,2.7 0 1,0 5.4,0a2.7,2.7 0 1,0 -5.4,0M210.4,837.8a2.7,2.7 0 1,0 5.4,0a2.7,2.7 0 1,0 -5.4,0M213.3,850.7a2.7,2.7 0 1,0 5.4,0a2.7,2.7 0 1,0 -5.4,0M215.9,843.5a2.7,2.7 0 1,0 5.4,0a2.7,2.7 0 1,0 -5.4,0M218.3,862.2a2.7,2.7 0 1,0 5.4,0a2.7,2.7 0 1,0 -5.4,0M220.8,865.1a2.7,2.7 0 1,0 5.4,0a2.7,2.7 0 1,0 -5.4,0M223.4,853.6a2.7,2.7 0 1,0 5.4,0a2.7,2.7 0 1,0 -5.4,0M226.5,856.5a2.7,2.7 0 1,0 5.4,0a2.7,2.7 0 1,0 -5.4,0M229.1,849.3a2.7,2.7 0 1,0 5.4,0a2.7,2.7 0 1,0 -5.4,0M231.2,852.9a2.7,2.7 0 1,0 5.4,0a2.7,2.7 0 1,0 -5.4,0M233.4,856.5a2.7,2.7 0 1,0 5.4,0a2.7,2.7 0 1,0 -5.4,0M236.3,845.0a2.7,2.7 0 1,0 5.4,0a2.7,2.7 0 1,0 -5.4,0M239.2,852.2a2.7,2.7 0 1,0 5.4,0a2.7,2.7 0 1,0 -5.4,0M241.3,868.0a2.7,2.7 0 1,0 5.4,0a2.7,2.7 0 1,0 -5.4,0M244.9,865.1a2.7,2.7 0 1,0 5.4,0a2.7,2.7 0 1,0 -5.4,0M247.1,855.0a2.7,2.7 0 1,0 5.4,0a2.7,2.7 0 1,0 -5.4,0M249.6,852.9a2.7,2.7 0 1,0 5.4,0a2.7,2.7 0 1,0 -5.4,0M252.1,850.7a2.7,2.7 0 1,0 5.4,0a2.7,2.7 0 1,0 -5.4,0M254.5,855.0a2.7,2.7 0 1,0 5.4,0a2.7,2.7 0 1,0 -5.4,0M257.3,843.5a2.7,2.7 0 1,0 5.4,0a2.7,2.7 0 1,0 -5.4,0M259.9,841.4a2.7,2.7 0 1,0 5.4,0a2.7,2.7 0 1,0 -5.4,0M262.4,839.2a2.7,2.7 0 1,0 5.4,0a2.7,2.7 0 1,0 -5.4,0M265.2,849.3a2.7,2.7 0 1,0 5.4,0a2.7,2.7 0 1,0 -5.4,0M267.4,858.6a2.7,2.7 0 1,0 5.4,0a2.7,2.7 0 1,0 -5.4,0M270.3,834.9a2.7,2.7 0 1,0 5.4,0a2.7,2.7 0 1,0 -5.4,0M272.4,853.6a2.7,2.7 0 1,0 5.4,0a2.7,2.7 0 1,0 -5.4,0M275.3,847.1a2.7,2.7 0 1,0 5.4,0a2.7,2.7 0 1,0 -5.4,0M277.9,865.1a2.7,2.7 0 1,0 5.4,0a2.7,2.7 0 1,0 -5.4,0M280.3,878.0a2.7,2.7 0 1,0 5.4,0a2.7,2.7 0 1,0 -5.4,0M282.5,866.5a2.7,2.7 0 1,0 5.4,0a2.7,2.7 0 1,0 -5.4,0M286.1,873.0a2.7,2.7 0 1,0 5.4,0a2.7,2.7 0 1,0 -5.4,0M288.3,862.2a2.7,2.7 0 1,0 5.4,0a2.7,2.7 0 1,0 -5.4,0M291.1,853.6a2.7,2.7 0 1,0 5.4,0a2.7,2.7 0 1,0 -5.4,0M293.3,855.0a2.7,2.7 0 1,0 5.4,0a2.7,2.7 0 1,0 -5.4,0M295.4,856.5a2.7,2.7 0 1,0 5.4,0a2.7,2.7 0 1,0 -5.4,0M298.3,842.8a2.7,2.7 0 1,0 5.4,0a2.7,2.7 0 1,0 -5.4,0M301.2,843.5a2.7,2.7 0 1,0 5.4,0a2.7,2.7 0 1,0 -5.4,0M304.1,844.2a2.7,2.7 0 1,0 5.4,0a2.7,2.7 0 1,0 -5.4,0M307.7,855.0a2.7,2.7 0 1,0 5.4,0a2.7,2.7 0 1,0 -5.4,0M310.2,857.9a2.7,2.7 0 1,0 5.4,0a2.7,2.7 0 1,0 -5.4,0M312.7,860.8a2.7,2.7 0 1,0 5.4,0a2.7,2.7 0 1,0 -5.4,0M315.2,860.0a2.7,2.7 0 1,0 5.4,0a2.7,2.7 0 1,0 -5.4,0M317.7,859.3a2.7,2.7 0 1,0 5.4,0a2.7,2.7 0 1,0 -5.4,0M319.9,850.0a2.7,2.7 0 1,0 5.4,0a2.7,2.7 0 1,0 -5.4,0M322.1,849.6a2.7,2.7 0 1,0 5.4,0a2.7,2.7 0 1,0 -5.4,0M324.2,849.3a2.7,2.7 0 1,0 5.4,0a2.7,2.7 0 1,0 -5.4,0M325.6,857.2a2.7,2.7 0 1,0 5.4,0a2.7,2.7 0 1,0 -5.4,0M327.8,848.2a2.7,2.7 0 1,0 5.4,0a2.7,2.7 0 1,0 -5.4,0M329.9,839.2a2.7,2.7 0 1,0 5.4,0a2.7,2.7 0 1,0 -5.4,0M332.8,866.5a2.7,2.7 0 1,0 5.4,0a2.7,2.7 0 1,0 -5.4,0M335.9,862.2a2.7,2.7 0 1,0 5.4,0a2.7,2.7 0 1,0 -5.4,0M338.1,846.4a2.7,2.7 0 1,0 5.4,0a2.7,2.7 0 1,0 -5.4,0M340.6,855.0a2.7,2.7 0 1,0 5.4,0a2.7,2.7 0 1,0 -5.4,0M343.1,841.4a2.7,2.7 0 1,0 5.4,0a2.7,2.7 0 1,0 -5.4,0M346.0,852.2a2.7,2.7 0 1,0 5.4,0a2.7,2.7 0 1,0 -5.4,0M348.8,850.0a2.7,2.7 0 1,0 5.4,0a2.7,2.7 0 1,0 -5.4,0M351.0,863.7a2.7,2.7 0 1,0 5.4,0a2.7,2.7 0 1,0 -5.4,0M353.9,852.2a2.7,2.7 0 1,0 5.4,0a2.7,2.7 0 1,0 -5.4,0M356.0,869.4a2.7,2.7 0 1,0 5.4,0a2.7,2.7 0 1,0 -5.4,0M358.9,858.6a2.7,2.7 0 1,0 5.4,0a2.7,2.7 0 1,0 -5.4,0M362.5,854.3a2.7,2.7 0 1,0 5.4,0a2.7,2.7 0 1,0 -5.4,0M366.5,841.4a2.7,2.7 0 1,0 5.4,0a2.7,2.7 0 1,0 -5.4,0M368.2,862.2a2.7,2.7 0 1,0 5.4,0a2.7,2.7 0 1,0 -5.4,0M371.1,855.0a2.7,2.7 0 1,0 5.4,0a2.7,2.7 0 1,0 -5.4,0M374.0,869.4a2.7,2.7 0 1,0 5.4,0a2.7,2.7 0 1,0 -5.4,0M376.2,852.2a2.7,2.7 0 1,0 5.4,0a2.7,2.7 0 1,0 -5.4,0M379.0,847.1a2.7,2.7 0 1,0 5.4,0a2.7,2.7 0 1,0 -5.4,0M381.9,853.6a2.7,2.7 0 1,0 5.4,0a2.7,2.7 0 1,0 -5.4,0M384.1,858.7a2.7,2.7 0 1,0 5.4,0a2.7,2.7 0 1,0 -5.4,0M386.2,863.7a2.7,2.7 0 1,0 5.4,0a2.7,2.7 0 1,0 -5.4,0M388.3,863.7a2.7,2.7 0 1,0 5.4,0a2.7,2.7 0 1,0 -5.4,0M390.5,863.7a2.7,2.7 0 1,0 5.4,0a2.7,2.7 0 1,0 -5.4,0M392.7,852.2a2.7,2.7 0 1,0 5.4,0a2.7,2.7 0 1,0 -5.4,0M394.8,836.3a2.7,2.7 0 1,0 5.4,0a2.7,2.7 0 1,0 -5.4,0M397.7,849.3a2.7,2.7 0 1,0 5.4,0a2.7,2.7 0 1,0 -5.4,0M399.9,819.8a2.7,2.7 0 1,0 5.4,0a2.7,2.7 0 1,0 -5.4,0M403.0,826.3a2.7,2.7 0 1,0 5.4,0a2.7,2.7 0 1,0 -5.4,0M405.6,815.5a2.7,2.7 0 1,0 5.4,0a2.7,2.7 0 1,0 -5.4,0M408.5,821.2a2.7,2.7 0 1,0 5.4,0a2.7,2.7 0 1,0 -5.4,0M411.1,818.4a2.7,2.7 0 1,0 5.4,0a2.7,2.7 0 1,0 -5.4,0" fill="#8FC31F"/>
<polyline points="87.9,1006.4 91.2,1007.4 93.4,1013.9 95.7,1030.6 98.6,1022.2 101.8,1018.5 104.0,1003.7 106.5,992.5 108.7,998.1 110.5,1017.6 113.5,996.2 115.4,1018.5 117.6,1008.3 119.5,1000.9 121.3,1038.0 124.1,1044.6 126.9,1056.6 129.7,1045.5 132.1,1033.4 135.3,1032.5 137.1,1047.4 139.9,1053.9 142.7,1064.1 145.5,1052.9 148.3,1091.0 150.7,1047.4 153.3,1061.3 155.7,1031.5 158.5,966.5 160.7,946.0 163.2,902.3 165.9,893.0 169.3,893.4 171.5,909.8 174.1,949.7 176.5,992.5 178.9,1007.4 181.2,1024.1 183.9,1037.7 186.7,1000.9 189.5,985.1 192.3,990.6 195.1,985.1 197.5,949.7 199.8,969.3 202.5,983.2 205.3,967.4 208.1,988.8 210.5,999.0 212.8,1025.0 215.6,1007.4 218.0,1032.5 221.1,1024.1 223.9,1021.3 225.8,1003.7 229.1,1002.4 232.3,1008.3 234.7,1011.1 239.2,1007.4 241.6,1034.0 244.4,1015.7 246.8,979.5 250.9,999.0 254.6,999.0 257.2,988.8 259.1,1003.7 262.4,993.4 265.2,1004.6 268.0,1009.2 270.2,1022.2 273.2,1017.6 275.5,1008.3 278.2,992.5 280.1,1003.7 282.9,1014.8 285.7,996.2 288.5,1013.9 291.3,1001.8 294.0,990.6 296.8,989.7 298.7,1022.2 301.5,1015.7 304.3,1031.5 307.1,1018.5 309.3,1000.9 311.7,1008.3 314.1,993.4 317.3,980.4 320.1,993.4 322.9,994.4 324.7,1012.9 329.4,1009.2 335.0,1012.0 337.8,1013.9 340.6,1017.6 342.8,998.1 345.2,1016.7 348.0,1010.2 350.8,1001.8 353.6,995.3 356.9,996.2 360.1,1000.9 362.9,1010.2 366.6,1003.7 369.4,1010.2 372.2,1008.3 374.4,996.2 378.7,998.1 381.9,1008.3 384.8,992.5 388.0,1008.3 389.9,1013.9 392.6,981.3 395.1,1016.7 397.8,991.6 400.5,996.2 402.9,981.3 405.7,987.8 407.9,967.4 410.9,971.1 413.5,961.8" fill="none" stroke="#E60012" stroke-width="3.2" stroke-linejoin="round"/>
<path d="M85.2,1006.4a2.7,2.7 0 1,0 5.4,0a2.7,2.7 0 1,0 -5.4,0M88.5,1007.4a2.7,2.7 0 1,0 5.4,0a2.7,2.7 0 1,0 -5.4,0M90.7,1013.9a2.7,2.7 0 1,0 5.4,0a2.7,2.7 0 1,0 -5.4,0M93.0,1030.6a2.7,2.7 0 1,0 5.4,0a2.7,2.7 0 1,0 -5.4,0M95.9,1022.2a2.7,2.7 0 1,0 5.4,0a2.7,2.7 0 1,0 -5.4,0M99.1,1018.5a2.7,2.7 0 1,0 5.4,0a2.7,2.7 0 1,0 -5.4,0M101.3,1003.7a2.7,2.7 0 1,0 5.4,0a2.7,2.7 0 1,0 -5.4,0M103.8,992.5a2.7,2.7 0 1,0 5.4,0a2.7,2.7 0 1,0 -5.4,0M106.0,998.1a2.7,2.7 0 1,0 5.4,0a2.7,2.7 0 1,0 -5.4,0M107.8,1017.6a2.7,2.7 0 1,0 5.4,0a2.7,2.7 0 1,0 -5.4,0M110.8,996.2a2.7,2.7 0 1,0 5.4,0a2.7,2.7 0 1,0 -5.4,0M112.7,1018.5a2.7,2.7 0 1,0 5.4,0a2.7,2.7 0 1,0 -5.4,0M114.9,1008.3a2.7,2.7 0 1,0 5.4,0a2.7,2.7 0 1,0 -5.4,0M116.8,1000.9a2.7,2.7 0 1,0 5.4,0a2.7,2.7 0 1,0 -5.4,0M118.6,1038.0a2.7,2.7 0 1,0 5.4,0a2.7,2.7 0 1,0 -5.4,0M121.4,1044.6a2.7,2.7 0 1,0 5.4,0a2.7,2.7 0 1,0 -5.4,0M124.2,1056.6a2.7,2.7 0 1,0 5.4,0a2.7,2.7 0 1,0 -5.4,0M127.0,1045.5a2.7,2.7 0 1,0 5.4,0a2.7,2.7 0 1,0 -5.4,0M129.4,1033.4a2.7,2.7 0 1,0 5.4,0a2.7,2.7 0 1,0 -5.4,0M132.6,1032.5a2.7,2.7 0 1,0 5.4,0a2.7,2.7 0 1,0 -5.4,0M134.4,1047.4a2.7,2.7 0 1,0 5.4,0a2.7,2.7 0 1,0 -5.4,0M137.2,1053.9a2.7,2.7 0 1,0 5.4,0a2.7,2.7 0 1,0 -5.4,0M140.0,1064.1a2.7,2.7 0 1,0 5.4,0a2.7,2.7 0 1,0 -5.4,0M142.8,1052.9a2.7,2.7 0 1,0 5.4,0a2.7,2.7 0 1,0 -5.4,0M145.6,1091.0a2.7,2.7 0 1,0 5.4,0a2.7,2.7 0 1,0 -5.4,0M148.0,1047.4a2.7,2.7 0 1,0 5.4,0a2.7,2.7 0 1,0 -5.4,0M150.6,1061.3a2.7,2.7 0 1,0 5.4,0a2.7,2.7 0 1,0 -5.4,0M153.0,1031.5a2.7,2.7 0 1,0 5.4,0a2.7,2.7 0 1,0 -5.4,0M155.8,966.5a2.7,2.7 0 1,0 5.4,0a2.7,2.7 0 1,0 -5.4,0M158.0,946.0a2.7,2.7 0 1,0 5.4,0a2.7,2.7 0 1,0 -5.4,0M160.5,902.3a2.7,2.7 0 1,0 5.4,0a2.7,2.7 0 1,0 -5.4,0M163.2,893.0a2.7,2.7 0 1,0 5.4,0a2.7,2.7 0 1,0 -5.4,0M166.6,893.4a2.7,2.7 0 1,0 5.4,0a2.7,2.7 0 1,0 -5.4,0M168.8,909.8a2.7,2.7 0 1,0 5.4,0a2.7,2.7 0 1,0 -5.4,0M171.4,949.7a2.7,2.7 0 1,0 5.4,0a2.7,2.7 0 1,0 -5.4,0M173.8,992.5a2.7,2.7 0 1,0 5.4,0a2.7,2.7 0 1,0 -5.4,0M176.2,1007.4a2.7,2.7 0 1,0 5.4,0a2.7,2.7 0 1,0 -5.4,0M178.5,1024.1a2.7,2.7 0 1,0 5.4,0a2.7,2.7 0 1,0 -5.4,0M181.2,1037.7a2.7,2.7 0 1,0 5.4,0a2.7,2.7 0 1,0 -5.4,0M184.0,1000.9a2.7,2.7 0 1,0 5.4,0a2.7,2.7 0 1,0 -5.4,0M186.8,985.1a2.7,2.7 0 1,0 5.4,0a2.7,2.7 0 1,0 -5.4,0M189.6,990.6a2.7,2.7 0 1,0 5.4,0a2.7,2.7 0 1,0 -5.4,0M192.4,985.1a2.7,2.7 0 1,0 5.4,0a2.7,2.7 0 1,0 -5.4,0M194.8,949.7a2.7,2.7 0 1,0 5.4,0a2.7,2.7 0 1,0 -5.4,0M197.1,969.3a2.7,2.7 0 1,0 5.4,0a2.7,2.7 0 1,0 -5.4,0M199.8,983.2a2.7,2.7 0 1,0 5.4,0a2.7,2.7 0 1,0 -5.4,0M202.6,967.4a2.7,2.7 0 1,0 5.4,0a2.7,2.7 0 1,0 -5.4,0M205.4,988.8a2.7,2.7 0 1,0 5.4,0a2.7,2.7 0 1,0 -5.4,0M207.8,999.0a2.7,2.7 0 1,0 5.4,0a2.7,2.7 0 1,0 -5.4,0M210.1,1025.0a2.7,2.7 0 1,0 5.4,0a2.7,2.7 0 1,0 -5.4,0M212.9,1007.4a2.7,2.7 0 1,0 5.4,0a2.7,2.7 0 1,0 -5.4,0M215.3,1032.5a2.7,2.7 0 1,0 5.4,0a2.7,2.7 0 1,0 -5.4,0M218.4,1024.1a2.7,2.7 0 1,0 5.4,0a2.7,2.7 0 1,0 -5.4,0M221.2,1021.3a2.7,2.7 0 1,0 5.4,0a2.7,2.7 0 1,0 -5.4,0M223.1,1003.7a2.7,2.7 0 1,0 5.4,0a2.7,2.7 0 1,0 -5.4,0M226.4,1002.4a2.7,2.7 0 1,0 5.4,0a2.7,2.7 0 1,0 -5.4,0M229.6,1008.3a2.7,2.7 0 1,0 5.4,0a2.7,2.7 0 1,0 -5.4,0M232.0,1011.1a2.7,2.7 0 1,0 5.4,0a2.7,2.7 0 1,0 -5.4,0M234.2,1009.2a2.7,2.7 0 1,0 5.4,0a2.7,2.7 0 1,0 -5.4,0M236.5,1007.4a2.7,2.7 0 1,0 5.4,0a2.7,2.7 0 1,0 -5.4,0M238.9,1034.0a2.7,2.7 0 1,0 5.4,0a2.7,2.7 0 1,0 -5.4,0M241.7,1015.7a2.7,2.7 0 1,0 5.4,0a2.7,2.7 0 1,0 -5.4,0M244.1,979.5a2.7,2.7 0 1,0 5.4,0a2.7,2.7 0 1,0 -5.4,0M248.2,999.0a2.7,2.7 0 1,0 5.4,0a2.7,2.7 0 1,0 -5.4,0M251.9,999.0a2.7,2.7 0 1,0 5.4,0a2.7,2.7 0 1,0 -5.4,0M254.5,988.8a2.7,2.7 0 1,0 5.4,0a2.7,2.7 0 1,0 -5.4,0M256.4,1003.7a2.7,2.7 0 1,0 5.4,0a2.7,2.7 0 1,0 -5.4,0M259.7,993.4a2.7,2.7 0 1,0 5.4,0a2.7,2.7 0 1,0 -5.4,0M262.5,1004.6a2.7,2.7 0 1,0 5.4,0a2.7,2.7 0 1,0 -5.4,0M265.3,1009.2a2.7,2.7 0 1,0 5.4,0a2.7,2.7 0 1,0 -5.4,0M267.5,1022.2a2.7,2.7 0 1,0 5.4,0a2.7,2.7 0 1,0 -5.4,0M270.5,1017.6a2.7,2.7 0 1,0 5.4,0a2.7,2.7 0 1,0 -5.4,0M272.8,1008.3a2.7,2.7 0 1,0 5.4,0a2.7,2.7 0 1,0 -5.4,0M275.5,992.5a2.7,2.7 0 1,0 5.4,0a2.7,2.7 0 1,0 -5.4,0M277.4,1003.7a2.7,2.7 0 1,0 5.4,0a2.7,2.7 0 1,0 -5.4,0M280.2,1014.8a2.7,2.7 0 1,0 5.4,0a2.7,2.7 0 1,0 -5.4,0M283.0,996.2a2.7,2.7 0 1,0 5.4,0a2.7,2.7 0 1,0 -5.4,0M285.8,1013.9a2.7,2.7 0 1,0 5.4,0a2.7,2.7 0 1,0 -5.4,0M288.6,1001.8a2.7,2.7 0 1,0 5.4,0a2.7,2.7 0 1,0 -5.4,0M291.3,990.6a2.7,2.7 0 1,0 5.4,0a2.7,2.7 0 1,0 -5.4,0M294.1,989.7a2.7,2.7 0 1,0 5.4,0a2.7,2.7 0 1,0 -5.4,0M296.0,1022.2a2.7,2.7 0 1,0 5.4,0a2.7,2.7 0 1,0 -5.4,0M298.8,1015.7a2.7,2.7 0 1,0 5.4,0a2.7,2.7 0 1,0 -5.4,0M301.6,1031.5a2.7,2.7 0 1,0 5.4,0a2.7,2.7 0 1,0 -5.4,0M304.4,1018.5a2.7,2.7 0 1,0 5.4,0a2.7,2.7 0 1,0 -5.4,0M306.6,1000.9a2.7,2.7 0 1,0 5.4,0a2.7,2.7 0 1,0 -5.4,0M309.0,1008.3a2.7,2.7 0 1,0 5.4,0a2.7,2.7 0 1,0 -5.4,0M311.4,993.4a2.7,2.7 0 1,0 5.4,0a2.7,2.7 0 1,0 -5.4,0M314.6,980.4a2.7,2.7 0 1,0 5.4,0a2.7,2.7 0 1,0 -5.4,0M317.4,993.4a2.7,2.7 0 1,0 5.4,0a2.7,2.7 0 1,0 -5.4,0M320.2,994.4a2.7,2.7 0 1,0 5.4,0a2.7,2.7 0 1,0 -5.4,0M322.0,1012.9a2.7,2.7 0 1,0 5.4,0a2.7,2.7 0 1,0 -5.4,0M324.3,1011.0a2.7,2.7 0 1,0 5.4,0a2.7,2.7 0 1,0 -5.4,0M326.7,1009.2a2.7,2.7 0 1,0 5.4,0a2.7,2.7 0 1,0 -5.4,0M329.5,1010.6a2.7,2.7 0 1,0 5.4,0a2.7,2.7 0 1,0 -5.4,0M332.3,1012.0a2.7,2.7 0 1,0 5.4,0a2.7,2.7 0 1,0 -5.4,0M335.1,1013.9a2.7,2.7 0 1,0 5.4,0a2.7,2.7 0 1,0 -5.4,0M337.9,1017.6a2.7,2.7 0 1,0 5.4,0a2.7,2.7 0 1,0 -5.4,0M340.1,998.1a2.7,2.7 0 1,0 5.4,0a2.7,2.7 0 1,0 -5.4,0M342.5,1016.7a2.7,2.7 0 1,0 5.4,0a2.7,2.7 0 1,0 -5.4,0M345.3,1010.2a2.7,2.7 0 1,0 5.4,0a2.7,2.7 0 1,0 -5.4,0M348.1,1001.8a2.7,2.7 0 1,0 5.4,0a2.7,2.7 0 1,0 -5.4,0M350.9,995.3a2.7,2.7 0 1,0 5.4,0a2.7,2.7 0 1,0 -5.4,0M354.2,996.2a2.7,2.7 0 1,0 5.4,0a2.7,2.7 0 1,0 -5.4,0M357.4,1000.9a2.7,2.7 0 1,0 5.4,0a2.7,2.7 0 1,0 -5.4,0M360.2,1010.2a2.7,2.7 0 1,0 5.4,0a2.7,2.7 0 1,0 -5.4,0M363.9,1003.7a2.7,2.7 0 1,0 5.4,0a2.7,2.7 0 1,0 -5.4,0M366.7,1010.2a2.7,2.7 0 1,0 5.4,0a2.7,2.7 0 1,0 -5.4,0M369.5,1008.3a2.7,2.7 0 1,0 5.4,0a2.7,2.7 0 1,0 -5.4,0M371.7,996.2a2.7,2.7 0 1,0 5.4,0a2.7,2.7 0 1,0 -5.4,0M373.8,997.2a2.7,2.7 0 1,0 5.4,0a2.7,2.7 0 1,0 -5.4,0M376.0,998.1a2.7,2.7 0 1,0 5.4,0a2.7,2.7 0 1,0 -5.4,0M379.2,1008.3a2.7,2.7 0 1,0 5.4,0a2.7,2.7 0 1,0 -5.4,0M382.1,992.5a2.7,2.7 0 1,0 5.4,0a2.7,2.7 0 1,0 -5.4,0M385.3,1008.3a2.7,2.7 0 1,0 5.4,0a2.7,2.7 0 1,0 -5.4,0M387.2,1013.9a2.7,2.7 0 1,0 5.4,0a2.7,2.7 0 1,0 -5.4,0M389.9,981.3a2.7,2.7 0 1,0 5.4,0a2.7,2.7 0 1,0 -5.4,0M392.4,1016.7a2.7,2.7 0 1,0 5.4,0a2.7,2.7 0 1,0 -5.4,0M395.1,991.6a2.7,2.7 0 1,0 5.4,0a2.7,2.7 0 1,0 -5.4,0M397.8,996.2a2.7,2.7 0 1,0 5.4,0a2.7,2.7 0 1,0 -5.4,0M400.2,981.3a2.7,2.7 0 1,0 5.4,0a2.7,2.7 0 1,0 -5.4,0M403.0,987.8a2.7,2.7 0 1,0 5.4,0a2.7,2.7 0 1,0 -5.4,0M405.2,967.4a2.7,2.7 0 1,0 5.4,0a2.7,2.7 0 1,0 -5.4,0M408.2,971.1a2.7,2.7 0 1,0 5.4,0a2.7,2.7 0 1,0 -5.4,0M410.8,961.8a2.7,2.7 0 1,0 5.4,0a2.7,2.7 0 1,0 -5.4,0" fill="#E60012"/>
<polyline points="463.0,701.6 463.5,700.9 464.1,700.4 464.6,700.0 465.2,699.6 465.7,699.4 466.3,699.2 466.8,699.2 467.3,699.2 467.9,699.3 468.4,699.4 469.0,699.7 469.5,699.9 470.1,700.3 470.6,700.6 471.1,701.0 471.7,701.5 472.2,701.9 472.8,702.4 473.3,702.9 473.9,703.4 474.4,704.0 474.9,704.5 475.5,705.0 476.0,705.5 476.6,706.0 477.1,706.4 477.6,706.8 478.2,707.2 478.7,707.6 479.3,707.9 479.8,708.1 480.4,708.3 480.9,708.4 481.4,708.5 482.0,708.6 482.5,708.6 483.1,708.6 483.6,708.5 484.2,708.4 484.7,708.2 485.2,708.0 485.8,707.8 486.3,707.5 486.9,707.3 487.4,707.0 488.0,706.7 488.5,706.3 489.0,706.0 489.6,705.7 490.1,705.4 490.7,705.1 491.2,704.8 491.8,704.5 492.3,704.2 492.8,703.9 493.4,703.7 493.9,703.4 494.5,703.1 495.0,702.9 495.6,702.6 496.1,702.3 496.6,702.1 497.2,701.8 497.7,701.5 498.3,701.3 498.8,701.0 499.4,700.7 499.9,700.4 500.4,700.1 501.0,699.8 501.5,699.6 502.1,699.3 502.6,699.0 503.2,698.8 503.7,698.5 504.2,698.3 504.8,698.0 505.3,697.8 505.9,697.6 506.4,697.4 506.9,697.3 507.5,697.1 508.0,697.0 508.6,697.0 509.1,696.9 509.7,697.0 510.2,697.1 510.7,697.2 511.3,697.4 511.8,697.7 512.4,698.0 512.9,698.3 513.5,698.8 514.0,699.2 514.5,699.7 515.1,700.3 515.6,700.9 516.2,701.6 516.7,702.3 517.3,703.2 517.8,704.3 518.3,705.5 518.9,706.9 519.4,708.4 520.0,710.0 520.5,711.7 521.1,713.4 521.6,714.9 522.1,716.3 522.7,717.5 523.2,718.6 523.8,719.5 524.3,720.2 524.9,720.8 525.4,721.2 525.9,721.5 526.5,721.6 527.0,721.6 527.6,721.4 528.1,721.0 528.7,720.5 529.2,719.7 529.7,718.8 530.3,717.6 530.8,716.3 531.4,714.8 531.9,713.1 532.4,711.2 533.0,709.1 533.5,706.8 534.1,704.4 534.6,701.7 535.2,698.8 535.7,695.7 536.2,692.6 536.8,689.4 537.3,686.4 537.9,683.6 538.4,681.2 539.0,679.2 539.5,677.5 540.0,676.2 540.6,675.3 541.1,674.6 541.7,674.1 542.2,674.0 542.8,674.1 543.3,674.6 543.8,675.4 544.4,676.5 544.9,678.1 545.5,680.1 546.0,682.5 546.6,685.4 547.1,688.7 547.6,692.4 548.2,696.3 548.7,700.3 549.3,704.3 549.8,708.2 550.4,712.1 550.9,716.0 551.4,719.7 552.0,723.3 552.5,726.6 553.1,729.6 553.6,732.0 554.2,734.0 554.7,735.5 555.2,736.6 555.8,737.3 556.3,737.8 556.9,737.9 557.4,737.8 557.9,737.3 558.5,736.4 559.0,735.2 559.6,733.5 560.1,731.4 560.7,728.9 561.2,726.0 561.7,722.6 562.3,718.9 562.8,715.0 563.4,710.9 563.9,706.7 564.5,702.5 565.0,698.4 565.5,694.4 566.1,690.5 566.6,686.7 567.2,683.3 567.7,680.2 568.3,677.8 568.8,675.9 569.3,674.7 569.9,674.0 570.4,673.7 571.0,673.7 571.5,673.9 572.1,674.3 572.6,674.8 573.1,675.7 573.7,676.8 574.2,678.2 574.8,680.1 575.3,682.3 575.9,684.8 576.4,687.5 576.9,690.4 577.5,693.3 578.0,696.3 578.6,699.3 579.1,702.2 579.7,704.9 580.2,707.5 580.7,709.9 581.3,712.0 581.8,713.8 582.4,715.4 582.9,716.6 583.5,717.5 584.0,718.2 584.5,718.7 585.1,718.9 585.6,718.9 586.2,718.7 586.7,718.3 587.2,717.7 587.8,717.0 588.3,716.1 588.9,715.0 589.4,713.9 590.0,712.6 590.5,711.3 591.0,710.1 591.6,708.8 592.1,707.7 592.7,706.7 593.2,705.9 593.8,705.1 594.3,704.4 594.8,703.9 595.4,703.4 595.9,703.0 596.5,702.7 597.0,702.4 597.6,702.3 598.1,702.2 598.6,702.3 599.2,702.4 599.7,702.6 600.3,702.8 600.8,703.1 601.4,703.5 601.9,703.8 602.4,704.1 603.0,704.3 603.5,704.5 604.1,704.6 604.6,704.6 605.2,704.4 605.7,704.2 606.2,703.8 606.8,703.3 607.3,702.7 607.9,702.0 608.4,701.2 609.0,700.3 609.5,699.4 610.0,698.5 610.6,697.5 611.1,696.6 611.7,695.7 612.2,694.9 612.7,694.3 613.3,693.7 613.8,693.4 614.4,693.2 614.9,693.0 615.5,693.0 616.0,693.1 616.5,693.3 617.1,693.5 617.6,693.8 618.2,694.2 618.7,694.7 619.3,695.3 619.8,696.1 620.3,697.0 620.9,698.1 621.4,699.4 622.0,700.8 622.5,702.2 623.1,703.7 623.6,705.1 624.1,706.6 624.7,707.9 625.2,709.2 625.8,710.4 626.3,711.5 626.9,712.5 627.4,713.3 627.9,714.1 628.5,714.6 629.0,715.0 629.6,715.3 630.1,715.4 630.7,715.3 631.2,715.1 631.7,714.7 632.3,714.1 632.8,713.5 633.4,712.7 633.9,711.9 634.5,711.0 635.0,710.1 635.5,709.1 636.1,708.1 636.6,707.2 637.2,706.2 637.7,705.3 638.3,704.4 638.8,703.6 639.3,702.9 639.9,702.3 640.4,701.8 641.0,701.4 641.5,701.0 642.0,700.8 642.6,700.5 643.1,700.4 643.7,700.3 644.2,700.2 644.8,700.1 645.3,700.1 645.8,700.1 646.4,700.1 646.9,700.1 647.5,700.1 648.0,700.1 648.6,700.1 649.1,700.2 649.6,700.2 650.2,700.2 650.7,700.1 651.3,700.1 651.8,700.0 652.4,700.0 652.9,699.9 653.4,699.8 654.0,699.7 654.5,699.6 655.1,699.5 655.6,699.4 656.2,699.3 656.7,699.3 657.2,699.3 657.8,699.3 658.3,699.3 658.9,699.4 659.4,699.6 660.0,699.7 660.5,699.9 661.0,700.2 661.6,700.5 662.1,700.8 662.7,701.2 663.2,701.6 663.8,702.1 664.3,702.5 664.8,703.1 665.4,703.6 665.9,704.2 666.5,704.7 667.0,705.3 667.5,705.9 668.1,706.5 668.6,707.1 669.2,707.7 669.7,708.2 670.3,708.7 670.8,709.1 671.3,709.5 671.9,709.8 672.4,709.9 673.0,710.0 673.5,710.0 674.1,709.9 674.6,709.7 675.1,709.5 675.7,709.2 676.2,708.8 676.8,708.4 677.3,708.0 677.9,707.6 678.4,707.1 678.9,706.6 679.5,706.1 680.0,705.7 680.6,705.2 681.1,704.8 681.7,704.3 682.2,703.9 682.7,703.5 683.3,703.2 683.8,702.8 684.4,702.5 684.9,702.3 685.5,702.0 686.0,701.8 686.5,701.7 687.1,701.5 687.6,701.4 688.2,701.3 688.7,701.2 689.3,701.1 689.8,701.0 690.3,700.8 690.9,700.6 691.4,700.4 692.0,700.2 692.5,699.9 693.1,699.6 693.6,699.2 694.1,698.9 694.7,698.5 695.2,698.1 695.8,697.7 696.3,697.3 696.8,696.8 697.4,696.4 697.9,696.0 698.5,695.7 699.0,695.4 699.6,695.2 700.1,695.0 700.6,694.9 701.2,694.9 701.7,695.0 702.3,695.2 702.8,695.6 703.4,696.0 703.9,696.5 704.4,697.1 705.0,697.7 705.5,698.5 706.1,699.4 706.6,700.4 707.2,701.5 707.7,702.6 708.2,703.9 708.8,705.3 709.3,706.7 709.9,708.2 710.4,709.8 711.0,711.3 711.5,712.7 712.0,713.9 712.6,715.1 713.1,716.0 713.7,716.8 714.2,717.4 714.8,717.8 715.3,718.0 715.8,717.9 716.4,717.7 716.9,717.2 717.5,716.5 718.0,715.6 718.6,714.6 719.1,713.3 719.6,711.9 720.2,710.4 720.7,708.8 721.3,707.0 721.8,705.3 722.3,703.5 722.9,701.7 723.4,699.9 724.0,698.2 724.5,696.6 725.1,695.1 725.6,693.8 726.1,692.5 726.7,691.5 727.2,690.6 727.8,689.9 728.3,689.4 728.9,689.1 729.4,689.0 729.9,689.1 730.5,689.3 731.0,689.7 731.6,690.3 732.1,691.0 732.7,691.9 733.2,692.9 733.7,694.2 734.3,695.7 734.8,697.4 735.4,699.1 735.9,700.9 736.5,702.5 737.0,704.1 737.5,705.4 738.1,706.5 738.6,707.4 739.2,708.2 739.7,708.9 740.3,709.4 740.8,709.8 741.3,710.2 741.9,710.4 742.4,710.6 743.0,710.7 743.5,710.6 744.1,710.5 744.6,710.3 745.1,709.9 745.7,709.5 746.2,709.0 746.8,708.4 747.3,707.8 747.8,707.1 748.4,706.5 748.9,705.8 749.5,705.2 750.0,704.6 750.6,704.0 751.1,703.5 751.6,703.1 752.2,702.7 752.7,702.4 753.3,702.3 753.8,702.3 754.4,702.3 754.9,702.5 755.4,702.8 756.0,703.1 756.5,703.5 757.1,704.0 757.6,704.5 758.2,705.1 758.7,705.6 759.2,706.2 759.8,706.7 760.3,707.2 760.9,707.6 761.4,707.9 762.0,708.2 762.5,708.3 763.0,708.3 763.6,708.2 764.1,708.0 764.7,707.7 765.2,707.3 765.8,706.8 766.3,706.2 766.8,705.6 767.4,704.9 767.9,704.1 768.5,703.4 769.0,702.6 769.6,701.8 770.1,701.1 770.6,700.4 771.2,699.8 771.7,699.3 772.3,698.8 772.8,698.5 773.4,698.2 773.9,698.0 774.4,697.9 775.0,697.9 775.5,697.9 776.1,698.1 776.6,698.3 777.1,698.6 777.7,698.9 778.2,699.3 778.8,699.6 779.3,700.0 779.9,700.4 780.4,700.7 780.9,701.1 781.5,701.3 782.0,701.6 782.6,701.8 783.1,701.9 783.7,702.1 784.2,702.2 784.7,702.3 785.3,702.3 785.8,702.4 786.4,702.4 786.9,702.4 787.5,702.4 788.0,702.4" fill="none" stroke="#0C2E8E" stroke-width="3.6" stroke-linejoin="round" stroke-linecap="round"/>
<path d="M459.8,701.7a3.1,3.1 0 1,0 6.2,0a3.1,3.1 0 1,0 -6.2,0M462.4,699.5a3.1,3.1 0 1,0 6.2,0a3.1,3.1 0 1,0 -6.2,0M465.0,699.3a3.1,3.1 0 1,0 6.2,0a3.1,3.1 0 1,0 -6.2,0M467.6,700.7a3.1,3.1 0 1,0 6.2,0a3.1,3.1 0 1,0 -6.2,0M470.2,702.9a3.1,3.1 0 1,0 6.2,0a3.1,3.1 0 1,0 -6.2,0M472.8,705.4a3.1,3.1 0 1,0 6.2,0a3.1,3.1 0 1,0 -6.2,0M475.4,707.4a3.1,3.1 0 1,0 6.2,0a3.1,3.1 0 1,0 -6.2,0M478.0,708.5a3.1,3.1 0 1,0 6.2,0a3.1,3.1 0 1,0 -6.2,0M480.6,708.5a3.1,3.1 0 1,0 6.2,0a3.1,3.1 0 1,0 -6.2,0M483.2,707.6a3.1,3.1 0 1,0 6.2,0a3.1,3.1 0 1,0 -6.2,0M485.8,706.1a3.1,3.1 0 1,0 6.2,0a3.1,3.1 0 1,0 -6.2,0M488.4,704.6a3.1,3.1 0 1,0 6.2,0a3.1,3.1 0 1,0 -6.2,0M491.0,703.3a3.1,3.1 0 1,0 6.2,0a3.1,3.1 0 1,0 -6.2,0M493.6,702.0a3.1,3.1 0 1,0 6.2,0a3.1,3.1 0 1,0 -6.2,0M496.2,700.7a3.1,3.1 0 1,0 6.2,0a3.1,3.1 0 1,0 -6.2,0M498.8,699.4a3.1,3.1 0 1,0 6.2,0a3.1,3.1 0 1,0 -6.2,0M501.4,698.1a3.1,3.1 0 1,0 6.2,0a3.1,3.1 0 1,0 -6.2,0M504.0,697.2a3.1,3.1 0 1,0 6.2,0a3.1,3.1 0 1,0 -6.2,0M506.6,697.0a3.1,3.1 0 1,0 6.2,0a3.1,3.1 0 1,0 -6.2,0M509.2,697.9a3.1,3.1 0 1,0 6.2,0a3.1,3.1 0 1,0 -6.2,0M511.8,700.1a3.1,3.1 0 1,0 6.2,0a3.1,3.1 0 1,0 -6.2,0M514.4,703.7a3.1,3.1 0 1,0 6.2,0a3.1,3.1 0 1,0 -6.2,0M517.0,710.5a3.1,3.1 0 1,0 6.2,0a3.1,3.1 0 1,0 -6.2,0M519.6,717.6a3.1,3.1 0 1,0 6.2,0a3.1,3.1 0 1,0 -6.2,0M522.2,721.1a3.1,3.1 0 1,0 6.2,0a3.1,3.1 0 1,0 -6.2,0M524.8,721.2a3.1,3.1 0 1,0 6.2,0a3.1,3.1 0 1,0 -6.2,0M527.4,717.1a3.1,3.1 0 1,0 6.2,0a3.1,3.1 0 1,0 -6.2,0M530.0,708.6a3.1,3.1 0 1,0 6.2,0a3.1,3.1 0 1,0 -6.2,0M532.6,695.6a3.1,3.1 0 1,0 6.2,0a3.1,3.1 0 1,0 -6.2,0M535.2,681.6a3.1,3.1 0 1,0 6.2,0a3.1,3.1 0 1,0 -6.2,0M537.8,674.8a3.1,3.1 0 1,0 6.2,0a3.1,3.1 0 1,0 -6.2,0M540.4,674.9a3.1,3.1 0 1,0 6.2,0a3.1,3.1 0 1,0 -6.2,0M543.0,683.1a3.1,3.1 0 1,0 6.2,0a3.1,3.1 0 1,0 -6.2,0M545.6,700.3a3.1,3.1 0 1,0 6.2,0a3.1,3.1 0 1,0 -6.2,0M548.2,719.0a3.1,3.1 0 1,0 6.2,0a3.1,3.1 0 1,0 -6.2,0M550.8,733.2a3.1,3.1 0 1,0 6.2,0a3.1,3.1 0 1,0 -6.2,0M553.4,737.9a3.1,3.1 0 1,0 6.2,0a3.1,3.1 0 1,0 -6.2,0M556.0,734.9a3.1,3.1 0 1,0 6.2,0a3.1,3.1 0 1,0 -6.2,0M558.6,722.7a3.1,3.1 0 1,0 6.2,0a3.1,3.1 0 1,0 -6.2,0M561.2,703.5a3.1,3.1 0 1,0 6.2,0a3.1,3.1 0 1,0 -6.2,0M563.8,684.8a3.1,3.1 0 1,0 6.2,0a3.1,3.1 0 1,0 -6.2,0M566.4,674.4a3.1,3.1 0 1,0 6.2,0a3.1,3.1 0 1,0 -6.2,0M569.0,674.3a3.1,3.1 0 1,0 6.2,0a3.1,3.1 0 1,0 -6.2,0M571.6,679.9a3.1,3.1 0 1,0 6.2,0a3.1,3.1 0 1,0 -6.2,0M574.2,692.5a3.1,3.1 0 1,0 6.2,0a3.1,3.1 0 1,0 -6.2,0M576.8,706.3a3.1,3.1 0 1,0 6.2,0a3.1,3.1 0 1,0 -6.2,0M579.4,715.8a3.1,3.1 0 1,0 6.2,0a3.1,3.1 0 1,0 -6.2,0M582.0,718.9a3.1,3.1 0 1,0 6.2,0a3.1,3.1 0 1,0 -6.2,0M584.6,717.1a3.1,3.1 0 1,0 6.2,0a3.1,3.1 0 1,0 -6.2,0M587.2,711.7a3.1,3.1 0 1,0 6.2,0a3.1,3.1 0 1,0 -6.2,0M589.8,706.3a3.1,3.1 0 1,0 6.2,0a3.1,3.1 0 1,0 -6.2,0M592.4,703.2a3.1,3.1 0 1,0 6.2,0a3.1,3.1 0 1,0 -6.2,0M595.0,702.2a3.1,3.1 0 1,0 6.2,0a3.1,3.1 0 1,0 -6.2,0M597.6,703.1a3.1,3.1 0 1,0 6.2,0a3.1,3.1 0 1,0 -6.2,0M600.2,704.5a3.1,3.1 0 1,0 6.2,0a3.1,3.1 0 1,0 -6.2,0M602.8,704.0a3.1,3.1 0 1,0 6.2,0a3.1,3.1 0 1,0 -6.2,0M605.4,701.0a3.1,3.1 0 1,0 6.2,0a3.1,3.1 0 1,0 -6.2,0M608.0,696.5a3.1,3.1 0 1,0 6.2,0a3.1,3.1 0 1,0 -6.2,0M610.6,693.4a3.1,3.1 0 1,0 6.2,0a3.1,3.1 0 1,0 -6.2,0M613.2,693.2a3.1,3.1 0 1,0 6.2,0a3.1,3.1 0 1,0 -6.2,0M615.8,694.9a3.1,3.1 0 1,0 6.2,0a3.1,3.1 0 1,0 -6.2,0M618.4,699.7a3.1,3.1 0 1,0 6.2,0a3.1,3.1 0 1,0 -6.2,0M621.0,706.6a3.1,3.1 0 1,0 6.2,0a3.1,3.1 0 1,0 -6.2,0M623.7,712.3a3.1,3.1 0 1,0 6.2,0a3.1,3.1 0 1,0 -6.2,0M626.3,715.2a3.1,3.1 0 1,0 6.2,0a3.1,3.1 0 1,0 -6.2,0M628.9,714.5a3.1,3.1 0 1,0 6.2,0a3.1,3.1 0 1,0 -6.2,0M631.5,710.9a3.1,3.1 0 1,0 6.2,0a3.1,3.1 0 1,0 -6.2,0M634.1,706.2a3.1,3.1 0 1,0 6.2,0a3.1,3.1 0 1,0 -6.2,0M636.7,702.5a3.1,3.1 0 1,0 6.2,0a3.1,3.1 0 1,0 -6.2,0M639.3,700.6a3.1,3.1 0 1,0 6.2,0a3.1,3.1 0 1,0 -6.2,0M641.9,700.1a3.1,3.1 0 1,0 6.2,0a3.1,3.1 0 1,0 -6.2,0M644.5,700.1a3.1,3.1 0 1,0 6.2,0a3.1,3.1 0 1,0 -6.2,0M647.1,700.2a3.1,3.1 0 1,0 6.2,0a3.1,3.1 0 1,0 -6.2,0M649.7,699.9a3.1,3.1 0 1,0 6.2,0a3.1,3.1 0 1,0 -6.2,0M652.3,699.4a3.1,3.1 0 1,0 6.2,0a3.1,3.1 0 1,0 -6.2,0M654.9,699.3a3.1,3.1 0 1,0 6.2,0a3.1,3.1 0 1,0 -6.2,0M657.5,700.0a3.1,3.1 0 1,0 6.2,0a3.1,3.1 0 1,0 -6.2,0M660.1,701.6a3.1,3.1 0 1,0 6.2,0a3.1,3.1 0 1,0 -6.2,0M662.7,704.0a3.1,3.1 0 1,0 6.2,0a3.1,3.1 0 1,0 -6.2,0M665.3,706.8a3.1,3.1 0 1,0 6.2,0a3.1,3.1 0 1,0 -6.2,0M667.9,709.2a3.1,3.1 0 1,0 6.2,0a3.1,3.1 0 1,0 -6.2,0M670.5,710.0a3.1,3.1 0 1,0 6.2,0a3.1,3.1 0 1,0 -6.2,0M673.1,708.9a3.1,3.1 0 1,0 6.2,0a3.1,3.1 0 1,0 -6.2,0M675.7,706.8a3.1,3.1 0 1,0 6.2,0a3.1,3.1 0 1,0 -6.2,0M678.3,704.5a3.1,3.1 0 1,0 6.2,0a3.1,3.1 0 1,0 -6.2,0M680.9,702.7a3.1,3.1 0 1,0 6.2,0a3.1,3.1 0 1,0 -6.2,0M683.5,701.7a3.1,3.1 0 1,0 6.2,0a3.1,3.1 0 1,0 -6.2,0M686.1,701.1a3.1,3.1 0 1,0 6.2,0a3.1,3.1 0 1,0 -6.2,0M688.7,700.3a3.1,3.1 0 1,0 6.2,0a3.1,3.1 0 1,0 -6.2,0M691.3,698.7a3.1,3.1 0 1,0 6.2,0a3.1,3.1 0 1,0 -6.2,0M693.9,696.7a3.1,3.1 0 1,0 6.2,0a3.1,3.1 0 1,0 -6.2,0M696.5,695.1a3.1,3.1 0 1,0 6.2,0a3.1,3.1 0 1,0 -6.2,0M699.1,695.2a3.1,3.1 0 1,0 6.2,0a3.1,3.1 0 1,0 -6.2,0M701.7,697.5a3.1,3.1 0 1,0 6.2,0a3.1,3.1 0 1,0 -6.2,0M704.3,701.9a3.1,3.1 0 1,0 6.2,0a3.1,3.1 0 1,0 -6.2,0M706.9,708.5a3.1,3.1 0 1,0 6.2,0a3.1,3.1 0 1,0 -6.2,0M709.5,715.1a3.1,3.1 0 1,0 6.2,0a3.1,3.1 0 1,0 -6.2,0M712.1,718.0a3.1,3.1 0 1,0 6.2,0a3.1,3.1 0 1,0 -6.2,0M714.7,716.0a3.1,3.1 0 1,0 6.2,0a3.1,3.1 0 1,0 -6.2,0M717.3,709.8a3.1,3.1 0 1,0 6.2,0a3.1,3.1 0 1,0 -6.2,0M719.9,701.4a3.1,3.1 0 1,0 6.2,0a3.1,3.1 0 1,0 -6.2,0M722.5,693.8a3.1,3.1 0 1,0 6.2,0a3.1,3.1 0 1,0 -6.2,0M725.1,689.5a3.1,3.1 0 1,0 6.2,0a3.1,3.1 0 1,0 -6.2,0M727.7,689.5a3.1,3.1 0 1,0 6.2,0a3.1,3.1 0 1,0 -6.2,0M730.3,693.4a3.1,3.1 0 1,0 6.2,0a3.1,3.1 0 1,0 -6.2,0M732.9,701.1a3.1,3.1 0 1,0 6.2,0a3.1,3.1 0 1,0 -6.2,0M735.5,707.4a3.1,3.1 0 1,0 6.2,0a3.1,3.1 0 1,0 -6.2,0M738.1,710.1a3.1,3.1 0 1,0 6.2,0a3.1,3.1 0 1,0 -6.2,0M740.7,710.6a3.1,3.1 0 1,0 6.2,0a3.1,3.1 0 1,0 -6.2,0M743.3,708.8a3.1,3.1 0 1,0 6.2,0a3.1,3.1 0 1,0 -6.2,0M745.9,705.8a3.1,3.1 0 1,0 6.2,0a3.1,3.1 0 1,0 -6.2,0M748.5,703.1a3.1,3.1 0 1,0 6.2,0a3.1,3.1 0 1,0 -6.2,0M751.1,702.3a3.1,3.1 0 1,0 6.2,0a3.1,3.1 0 1,0 -6.2,0M753.7,703.8a3.1,3.1 0 1,0 6.2,0a3.1,3.1 0 1,0 -6.2,0M756.3,706.3a3.1,3.1 0 1,0 6.2,0a3.1,3.1 0 1,0 -6.2,0M758.9,708.2a3.1,3.1 0 1,0 6.2,0a3.1,3.1 0 1,0 -6.2,0M761.5,707.7a3.1,3.1 0 1,0 6.2,0a3.1,3.1 0 1,0 -6.2,0M764.1,705.1a3.1,3.1 0 1,0 6.2,0a3.1,3.1 0 1,0 -6.2,0M766.7,701.5a3.1,3.1 0 1,0 6.2,0a3.1,3.1 0 1,0 -6.2,0M769.3,698.7a3.1,3.1 0 1,0 6.2,0a3.1,3.1 0 1,0 -6.2,0M771.9,697.9a3.1,3.1 0 1,0 6.2,0a3.1,3.1 0 1,0 -6.2,0M774.5,698.9a3.1,3.1 0 1,0 6.2,0a3.1,3.1 0 1,0 -6.2,0M777.1,700.6a3.1,3.1 0 1,0 6.2,0a3.1,3.1 0 1,0 -6.2,0M779.7,701.8a3.1,3.1 0 1,0 6.2,0a3.1,3.1 0 1,0 -6.2,0M782.3,702.3a3.1,3.1 0 1,0 6.2,0a3.1,3.1 0 1,0 -6.2,0M784.9,702.4a3.1,3.1 0 1,0 6.2,0a3.1,3.1 0 1,0 -6.2,0" fill="#0C2E8E"/>
<polyline points="463.8,850.6 464.3,851.0 464.9,851.5 465.4,852.1 466.0,852.7 466.5,853.3 467.0,854.0 467.6,854.7 468.1,855.5 468.7,856.2 469.2,857.0 469.8,857.7 470.3,858.5 470.8,859.2 471.4,859.8 471.9,860.4 472.5,861.0 473.0,861.5 473.5,862.0 474.1,862.3 474.6,862.6 475.2,862.7 475.7,862.8 476.2,862.8 476.8,862.6 477.3,862.4 477.9,862.1 478.4,861.7 478.9,861.2 479.5,860.7 480.0,860.0 480.6,859.3 481.1,858.6 481.7,857.8 482.2,856.9 482.7,856.1 483.3,855.2 483.8,854.4 484.4,853.5 484.9,852.8 485.4,852.0 486.0,851.4 486.5,850.8 487.1,850.2 487.6,849.8 488.1,849.5 488.7,849.2 489.2,849.1 489.8,849.1 490.3,849.2 490.9,849.4 491.4,849.7 491.9,850.1 492.5,850.6 493.0,851.1 493.6,851.7 494.1,852.3 494.6,853.0 495.2,853.6 495.7,854.3 496.3,855.0 496.8,855.6 497.3,856.1 497.9,856.6 498.4,857.0 499.0,857.3 499.5,857.4 500.1,857.4 500.6,857.2 501.1,856.8 501.7,856.3 502.2,855.7 502.8,855.0 503.3,854.1 503.8,853.2 504.4,852.1 504.9,851.0 505.5,849.9 506.0,848.7 506.5,847.5 507.1,846.4 507.6,845.4 508.2,844.5 508.7,843.7 509.2,843.1 509.8,842.7 510.3,842.4 510.9,842.3 511.4,842.3 512.0,842.4 512.5,842.7 513.0,843.3 513.6,844.0 514.1,845.0 514.7,846.2 515.2,847.8 515.7,849.7 516.3,851.8 516.8,854.0 517.4,856.4 517.9,858.8 518.4,861.2 519.0,863.8 519.5,866.3 520.1,868.9 520.6,871.4 521.2,873.9 521.7,876.2 522.2,878.2 522.8,880.0 523.3,881.5 523.9,882.7 524.4,883.5 524.9,883.8 525.5,883.6 526.0,882.9 526.6,881.5 527.1,879.4 527.6,876.5 528.2,872.8 528.7,868.4 529.3,863.7 529.8,859.0 530.4,854.4 530.9,850.0 531.4,845.9 532.0,841.8 532.5,837.8 533.1,833.8 533.6,830.1 534.1,826.6 534.7,823.6 535.2,821.0 535.8,818.8 536.3,817.1 536.8,815.8 537.4,814.9 537.9,814.5 538.5,814.4 539.0,814.6 539.5,815.1 540.1,815.9 540.6,817.2 541.2,819.0 541.7,821.4 542.3,824.2 542.8,827.6 543.3,831.4 543.9,835.5 544.4,839.9 545.0,844.3 545.5,848.6 546.0,852.9 546.6,857.4 547.1,862.3 547.7,867.2 548.2,872.1 548.7,876.6 549.3,880.5 549.8,884.0 550.4,886.9 550.9,889.3 551.5,891.4 552.0,892.9 552.5,894.0 553.1,894.5 553.6,894.5 554.2,894.0 554.7,892.8 555.2,891.1 555.8,888.8 556.3,886.0 556.9,882.8 557.4,879.3 557.9,875.6 558.5,871.8 559.0,868.0 559.6,864.2 560.1,860.3 560.7,856.3 561.2,852.2 561.7,847.9 562.3,843.7 562.8,839.8 563.4,836.4 563.9,833.4 564.4,830.9 565.0,829.0 565.5,827.6 566.1,826.8 566.6,826.4 567.1,826.4 567.7,826.7 568.2,827.4 568.8,828.2 569.3,829.2 569.8,830.4 570.4,831.8 570.9,833.3 571.5,835.1 572.0,837.3 572.6,839.9 573.1,842.8 573.6,845.9 574.2,848.9 574.7,851.7 575.3,854.1 575.8,856.2 576.3,858.2 576.9,860.0 577.4,861.7 578.0,863.2 578.5,864.6 579.0,865.6 579.6,866.3 580.1,866.5 580.7,866.3 581.2,865.8 581.8,864.9 582.3,863.9 582.8,862.6 583.4,861.3 583.9,859.9 584.5,858.5 585.0,857.1 585.5,855.8 586.1,854.6 586.6,853.6 587.2,852.7 587.7,852.0 588.2,851.4 588.8,850.9 589.3,850.7 589.9,850.5 590.4,850.5 591.0,850.7 591.5,851.0 592.0,851.4 592.6,852.0 593.1,852.6 593.7,853.4 594.2,854.3 594.7,855.2 595.3,856.2 595.8,857.3 596.4,858.3 596.9,859.3 597.4,860.3 598.0,861.3 598.5,862.1 599.1,862.9 599.6,863.5 600.1,863.9 600.7,864.2 601.2,864.2 601.8,864.0 602.3,863.5 602.9,862.9 603.4,862.1 603.9,861.1 604.5,860.0 605.0,858.7 605.6,857.3 606.1,855.8 606.6,854.3 607.2,852.8 607.7,851.4 608.3,850.0 608.8,848.7 609.3,847.6 609.9,846.5 610.4,845.6 611.0,844.8 611.5,844.2 612.1,843.7 612.6,843.3 613.1,843.0 613.7,842.9 614.2,842.9 614.8,843.2 615.3,843.6 615.8,844.2 616.4,845.0 616.9,846.1 617.5,847.3 618.0,848.7 618.5,850.1 619.1,851.6 619.6,853.0 620.2,854.2 620.7,855.4 621.3,856.4 621.8,857.3 622.3,858.2 622.9,859.0 623.4,859.7 624.0,860.4 624.5,861.1 625.0,861.7 625.6,862.1 626.1,862.5 626.7,862.7 627.2,862.7 627.7,862.5 628.3,862.2 628.8,861.7 629.4,861.2 629.9,860.5 630.4,859.9 631.0,859.1 631.5,858.4 632.1,857.7 632.6,857.1 633.2,856.5 633.7,855.9 634.2,855.3 634.8,854.8 635.3,854.3 635.9,853.9 636.4,853.4 636.9,853.0 637.5,852.7 638.0,852.3 638.6,852.1 639.1,851.8 639.6,851.6 640.2,851.5 640.7,851.4 641.3,851.4 641.8,851.4 642.4,851.5 642.9,851.6 643.4,851.8 644.0,851.9 644.5,852.1 645.1,852.3 645.6,852.5 646.1,852.7 646.7,852.9 647.2,853.1 647.8,853.2 648.3,853.3 648.8,853.4 649.4,853.5 649.9,853.6 650.5,853.7 651.0,853.8 651.6,853.9 652.1,854.0 652.6,854.1 653.2,854.2 653.7,854.3 654.3,854.4 654.8,854.5 655.3,854.7 655.9,854.8 656.4,855.0 657.0,855.2 657.5,855.3 658.0,855.5 658.6,855.6 659.1,855.7 659.7,855.8 660.2,855.9 660.7,856.0 661.3,856.0 661.8,856.0 662.4,855.9 662.9,855.8 663.5,855.7 664.0,855.5 664.5,855.3 665.1,855.0 665.6,854.6 666.2,854.2 666.7,853.8 667.2,853.3 667.8,852.8 668.3,852.3 668.9,851.7 669.4,851.2 669.9,850.6 670.5,850.1 671.0,849.6 671.6,849.0 672.1,848.6 672.7,848.1 673.2,847.8 673.7,847.4 674.3,847.2 674.8,847.0 675.4,846.9 675.9,846.9 676.4,847.0 677.0,847.2 677.5,847.5 678.1,847.9 678.6,848.4 679.1,849.0 679.7,849.7 680.2,850.6 680.8,851.6 681.3,852.6 681.9,853.8 682.4,855.0 682.9,856.2 683.5,857.5 684.0,858.8 684.6,860.1 685.1,861.4 685.6,862.5 686.2,863.6 686.7,864.5 687.3,865.3 687.8,865.9 688.3,866.4 688.9,866.7 689.4,866.8 690.0,866.8 690.5,866.7 691.0,866.3 691.6,865.9 692.1,865.2 692.7,864.3 693.2,863.2 693.8,861.9 694.3,860.3 694.8,858.7 695.4,857.0 695.9,855.3 696.5,853.6 697.0,852.1 697.5,850.8 698.1,849.5 698.6,848.4 699.2,847.4 699.7,846.5 700.2,845.6 700.8,844.9 701.3,844.3 701.9,843.8 702.4,843.4 703.0,843.2 703.5,843.1 704.0,843.1 704.6,843.3 705.1,843.6 705.7,844.1 706.2,844.6 706.7,845.2 707.3,845.8 707.8,846.6 708.4,847.3 708.9,848.1 709.4,848.9 710.0,849.6 710.5,850.4 711.1,851.2 711.6,851.9 712.2,852.5 712.7,853.2 713.2,853.7 713.8,854.3 714.3,854.7 714.9,855.2 715.4,855.5 715.9,855.9 716.5,856.1 717.0,856.3 717.6,856.5 718.1,856.7 718.6,856.9 719.2,857.0 719.7,857.2 720.3,857.4 720.8,857.6 721.3,857.8 721.9,858.0 722.4,858.3 723.0,858.7 723.5,859.0 724.1,859.4 724.6,859.9 725.1,860.3 725.7,860.8 726.2,861.3 726.8,861.8 727.3,862.3 727.8,862.8 728.4,863.4 728.9,863.9 729.5,864.3 730.0,864.7 730.5,865.0 731.1,865.2 731.6,865.3 732.2,865.3 732.7,865.1 733.3,864.7 733.8,864.2 734.3,863.5 734.9,862.7 735.4,861.7 736.0,860.6 736.5,859.4 737.0,858.0 737.6,856.6 738.1,855.0 738.7,853.3 739.2,851.6 739.7,849.7 740.3,847.9 740.8,846.1 741.4,844.4 741.9,842.8 742.5,841.5 743.0,840.3 743.5,839.4 744.1,838.6 744.6,838.0 745.2,837.5 745.7,837.2 746.2,836.9 746.8,836.7 747.3,836.6 747.9,836.6 748.4,836.7 748.9,836.8 749.5,837.1 750.0,837.4 750.6,837.9 751.1,838.5 751.6,839.2 752.2,840.1 752.7,841.2 753.3,842.5 753.8,844.0 754.4,845.6 754.9,847.4 755.4,849.2 756.0,851.1 756.5,852.9 757.1,854.6 757.6,856.2 758.1,857.7 758.7,859.1 759.2,860.5 759.8,861.8 760.3,863.1 760.8,864.4 761.4,865.7 761.9,867.0 762.5,868.3 763.0,869.5 763.6,870.6 764.1,871.6 764.6,872.4 765.2,873.1 765.7,873.6 766.3,874.0 766.8,874.2 767.3,874.3 767.9,874.3 768.4,874.2 769.0,874.0 769.5,873.6 770.0,873.2 770.6,872.7 771.1,872.1 771.7,871.4 772.2,870.7 772.8,869.9 773.3,869.0 773.8,868.1 774.4,867.0 774.9,865.7 775.5,864.3 776.0,862.8 776.5,861.0 777.1,859.1 777.6,857.0 778.2,854.7 778.7,852.3 779.2,849.8 779.8,847.2 780.3,844.6 780.9,842.1 781.4,839.5 781.9,836.9 782.5,834.3 783.0,831.5 783.6,828.7 784.1,825.9 784.7,823.2 785.2,820.8 785.7,818.6 786.3,817.0 786.8,815.9 787.4,815.4 787.9,815.7" fill="none" stroke="#8FC31F" stroke-width="3.6" stroke-linejoin="round" stroke-linecap="round"/>
<path d="M462.4,852.2a3.1,3.1 0 1,0 6.2,0a3.1,3.1 0 1,0 -6.2,0M465.0,855.5a3.1,3.1 0 1,0 6.2,0a3.1,3.1 0 1,0 -6.2,0M467.6,859.0a3.1,3.1 0 1,0 6.2,0a3.1,3.1 0 1,0 -6.2,0M470.2,861.8a3.1,3.1 0 1,0 6.2,0a3.1,3.1 0 1,0 -6.2,0M472.8,862.8a3.1,3.1 0 1,0 6.2,0a3.1,3.1 0 1,0 -6.2,0M475.4,861.6a3.1,3.1 0 1,0 6.2,0a3.1,3.1 0 1,0 -6.2,0M478.0,858.6a3.1,3.1 0 1,0 6.2,0a3.1,3.1 0 1,0 -6.2,0M480.6,854.5a3.1,3.1 0 1,0 6.2,0a3.1,3.1 0 1,0 -6.2,0M483.2,851.0a3.1,3.1 0 1,0 6.2,0a3.1,3.1 0 1,0 -6.2,0M485.8,849.2a3.1,3.1 0 1,0 6.2,0a3.1,3.1 0 1,0 -6.2,0M488.4,849.8a3.1,3.1 0 1,0 6.2,0a3.1,3.1 0 1,0 -6.2,0M491.0,852.3a3.1,3.1 0 1,0 6.2,0a3.1,3.1 0 1,0 -6.2,0M493.6,855.5a3.1,3.1 0 1,0 6.2,0a3.1,3.1 0 1,0 -6.2,0M496.2,857.4a3.1,3.1 0 1,0 6.2,0a3.1,3.1 0 1,0 -6.2,0M498.8,856.1a3.1,3.1 0 1,0 6.2,0a3.1,3.1 0 1,0 -6.2,0M501.4,851.9a3.1,3.1 0 1,0 6.2,0a3.1,3.1 0 1,0 -6.2,0M504.0,846.4a3.1,3.1 0 1,0 6.2,0a3.1,3.1 0 1,0 -6.2,0M506.6,842.7a3.1,3.1 0 1,0 6.2,0a3.1,3.1 0 1,0 -6.2,0M509.2,842.6a3.1,3.1 0 1,0 6.2,0a3.1,3.1 0 1,0 -6.2,0M511.8,846.9a3.1,3.1 0 1,0 6.2,0a3.1,3.1 0 1,0 -6.2,0M514.4,857.0a3.1,3.1 0 1,0 6.2,0a3.1,3.1 0 1,0 -6.2,0M517.0,869.1a3.1,3.1 0 1,0 6.2,0a3.1,3.1 0 1,0 -6.2,0M519.6,879.9a3.1,3.1 0 1,0 6.2,0a3.1,3.1 0 1,0 -6.2,0M522.2,883.7a3.1,3.1 0 1,0 6.2,0a3.1,3.1 0 1,0 -6.2,0M524.8,874.7a3.1,3.1 0 1,0 6.2,0a3.1,3.1 0 1,0 -6.2,0M527.4,853.0a3.1,3.1 0 1,0 6.2,0a3.1,3.1 0 1,0 -6.2,0M530.0,833.4a3.1,3.1 0 1,0 6.2,0a3.1,3.1 0 1,0 -6.2,0M532.6,818.9a3.1,3.1 0 1,0 6.2,0a3.1,3.1 0 1,0 -6.2,0M535.2,814.4a3.1,3.1 0 1,0 6.2,0a3.1,3.1 0 1,0 -6.2,0M537.8,818.1a3.1,3.1 0 1,0 6.2,0a3.1,3.1 0 1,0 -6.2,0M540.4,832.8a3.1,3.1 0 1,0 6.2,0a3.1,3.1 0 1,0 -6.2,0M543.0,853.6a3.1,3.1 0 1,0 6.2,0a3.1,3.1 0 1,0 -6.2,0M545.6,876.4a3.1,3.1 0 1,0 6.2,0a3.1,3.1 0 1,0 -6.2,0M548.2,890.9a3.1,3.1 0 1,0 6.2,0a3.1,3.1 0 1,0 -6.2,0M550.8,894.3a3.1,3.1 0 1,0 6.2,0a3.1,3.1 0 1,0 -6.2,0M553.4,884.9a3.1,3.1 0 1,0 6.2,0a3.1,3.1 0 1,0 -6.2,0M556.0,867.3a3.1,3.1 0 1,0 6.2,0a3.1,3.1 0 1,0 -6.2,0M558.6,847.9a3.1,3.1 0 1,0 6.2,0a3.1,3.1 0 1,0 -6.2,0M561.2,831.4a3.1,3.1 0 1,0 6.2,0a3.1,3.1 0 1,0 -6.2,0M563.8,826.4a3.1,3.1 0 1,0 6.2,0a3.1,3.1 0 1,0 -6.2,0M566.4,829.7a3.1,3.1 0 1,0 6.2,0a3.1,3.1 0 1,0 -6.2,0M569.0,837.8a3.1,3.1 0 1,0 6.2,0a3.1,3.1 0 1,0 -6.2,0M571.6,851.8a3.1,3.1 0 1,0 6.2,0a3.1,3.1 0 1,0 -6.2,0M574.2,861.4a3.1,3.1 0 1,0 6.2,0a3.1,3.1 0 1,0 -6.2,0M576.8,866.5a3.1,3.1 0 1,0 6.2,0a3.1,3.1 0 1,0 -6.2,0M579.4,863.3a3.1,3.1 0 1,0 6.2,0a3.1,3.1 0 1,0 -6.2,0M582.0,856.7a3.1,3.1 0 1,0 6.2,0a3.1,3.1 0 1,0 -6.2,0M584.6,851.9a3.1,3.1 0 1,0 6.2,0a3.1,3.1 0 1,0 -6.2,0M587.2,850.5a3.1,3.1 0 1,0 6.2,0a3.1,3.1 0 1,0 -6.2,0M589.8,852.4a3.1,3.1 0 1,0 6.2,0a3.1,3.1 0 1,0 -6.2,0M592.4,856.7a3.1,3.1 0 1,0 6.2,0a3.1,3.1 0 1,0 -6.2,0M595.0,861.5a3.1,3.1 0 1,0 6.2,0a3.1,3.1 0 1,0 -6.2,0M597.6,864.2a3.1,3.1 0 1,0 6.2,0a3.1,3.1 0 1,0 -6.2,0M600.2,862.2a3.1,3.1 0 1,0 6.2,0a3.1,3.1 0 1,0 -6.2,0M602.8,856.3a3.1,3.1 0 1,0 6.2,0a3.1,3.1 0 1,0 -6.2,0M605.4,849.3a3.1,3.1 0 1,0 6.2,0a3.1,3.1 0 1,0 -6.2,0M608.0,844.6a3.1,3.1 0 1,0 6.2,0a3.1,3.1 0 1,0 -6.2,0M610.6,842.9a3.1,3.1 0 1,0 6.2,0a3.1,3.1 0 1,0 -6.2,0M613.2,844.9a3.1,3.1 0 1,0 6.2,0a3.1,3.1 0 1,0 -6.2,0M615.8,851.2a3.1,3.1 0 1,0 6.2,0a3.1,3.1 0 1,0 -6.2,0M618.4,856.9a3.1,3.1 0 1,0 6.2,0a3.1,3.1 0 1,0 -6.2,0M621.0,860.7a3.1,3.1 0 1,0 6.2,0a3.1,3.1 0 1,0 -6.2,0M623.7,862.7a3.1,3.1 0 1,0 6.2,0a3.1,3.1 0 1,0 -6.2,0M626.3,861.2a3.1,3.1 0 1,0 6.2,0a3.1,3.1 0 1,0 -6.2,0M628.9,857.9a3.1,3.1 0 1,0 6.2,0a3.1,3.1 0 1,0 -6.2,0M631.5,855.0a3.1,3.1 0 1,0 6.2,0a3.1,3.1 0 1,0 -6.2,0M634.1,852.9a3.1,3.1 0 1,0 6.2,0a3.1,3.1 0 1,0 -6.2,0M636.7,851.6a3.1,3.1 0 1,0 6.2,0a3.1,3.1 0 1,0 -6.2,0M639.3,851.5a3.1,3.1 0 1,0 6.2,0a3.1,3.1 0 1,0 -6.2,0M641.9,852.3a3.1,3.1 0 1,0 6.2,0a3.1,3.1 0 1,0 -6.2,0M644.5,853.1a3.1,3.1 0 1,0 6.2,0a3.1,3.1 0 1,0 -6.2,0M647.1,853.7a3.1,3.1 0 1,0 6.2,0a3.1,3.1 0 1,0 -6.2,0M649.7,854.1a3.1,3.1 0 1,0 6.2,0a3.1,3.1 0 1,0 -6.2,0M652.3,854.7a3.1,3.1 0 1,0 6.2,0a3.1,3.1 0 1,0 -6.2,0M654.9,855.4a3.1,3.1 0 1,0 6.2,0a3.1,3.1 0 1,0 -6.2,0M657.5,855.9a3.1,3.1 0 1,0 6.2,0a3.1,3.1 0 1,0 -6.2,0M660.1,855.8a3.1,3.1 0 1,0 6.2,0a3.1,3.1 0 1,0 -6.2,0M662.7,854.5a3.1,3.1 0 1,0 6.2,0a3.1,3.1 0 1,0 -6.2,0M665.3,852.2a3.1,3.1 0 1,0 6.2,0a3.1,3.1 0 1,0 -6.2,0M667.9,849.6a3.1,3.1 0 1,0 6.2,0a3.1,3.1 0 1,0 -6.2,0M670.5,847.5a3.1,3.1 0 1,0 6.2,0a3.1,3.1 0 1,0 -6.2,0M673.1,846.9a3.1,3.1 0 1,0 6.2,0a3.1,3.1 0 1,0 -6.2,0M675.7,848.5a3.1,3.1 0 1,0 6.2,0a3.1,3.1 0 1,0 -6.2,0M678.3,852.7a3.1,3.1 0 1,0 6.2,0a3.1,3.1 0 1,0 -6.2,0M680.9,858.7a3.1,3.1 0 1,0 6.2,0a3.1,3.1 0 1,0 -6.2,0M683.5,864.3a3.1,3.1 0 1,0 6.2,0a3.1,3.1 0 1,0 -6.2,0M686.1,866.8a3.1,3.1 0 1,0 6.2,0a3.1,3.1 0 1,0 -6.2,0M688.7,865.7a3.1,3.1 0 1,0 6.2,0a3.1,3.1 0 1,0 -6.2,0M691.3,860.1a3.1,3.1 0 1,0 6.2,0a3.1,3.1 0 1,0 -6.2,0M693.9,852.2a3.1,3.1 0 1,0 6.2,0a3.1,3.1 0 1,0 -6.2,0M696.5,846.7a3.1,3.1 0 1,0 6.2,0a3.1,3.1 0 1,0 -6.2,0M699.1,843.6a3.1,3.1 0 1,0 6.2,0a3.1,3.1 0 1,0 -6.2,0M701.7,843.4a3.1,3.1 0 1,0 6.2,0a3.1,3.1 0 1,0 -6.2,0M704.3,846.0a3.1,3.1 0 1,0 6.2,0a3.1,3.1 0 1,0 -6.2,0M706.9,849.6a3.1,3.1 0 1,0 6.2,0a3.1,3.1 0 1,0 -6.2,0M709.5,853.0a3.1,3.1 0 1,0 6.2,0a3.1,3.1 0 1,0 -6.2,0M712.1,855.4a3.1,3.1 0 1,0 6.2,0a3.1,3.1 0 1,0 -6.2,0M714.7,856.6a3.1,3.1 0 1,0 6.2,0a3.1,3.1 0 1,0 -6.2,0M717.3,857.4a3.1,3.1 0 1,0 6.2,0a3.1,3.1 0 1,0 -6.2,0M719.9,858.7a3.1,3.1 0 1,0 6.2,0a3.1,3.1 0 1,0 -6.2,0M722.5,860.7a3.1,3.1 0 1,0 6.2,0a3.1,3.1 0 1,0 -6.2,0M725.1,863.2a3.1,3.1 0 1,0 6.2,0a3.1,3.1 0 1,0 -6.2,0M727.7,865.1a3.1,3.1 0 1,0 6.2,0a3.1,3.1 0 1,0 -6.2,0M730.3,864.6a3.1,3.1 0 1,0 6.2,0a3.1,3.1 0 1,0 -6.2,0M732.9,860.6a3.1,3.1 0 1,0 6.2,0a3.1,3.1 0 1,0 -6.2,0M735.5,853.6a3.1,3.1 0 1,0 6.2,0a3.1,3.1 0 1,0 -6.2,0M738.1,844.9a3.1,3.1 0 1,0 6.2,0a3.1,3.1 0 1,0 -6.2,0M740.7,839.0a3.1,3.1 0 1,0 6.2,0a3.1,3.1 0 1,0 -6.2,0M743.3,836.8a3.1,3.1 0 1,0 6.2,0a3.1,3.1 0 1,0 -6.2,0M745.9,836.9a3.1,3.1 0 1,0 6.2,0a3.1,3.1 0 1,0 -6.2,0M748.5,839.1a3.1,3.1 0 1,0 6.2,0a3.1,3.1 0 1,0 -6.2,0M751.1,845.1a3.1,3.1 0 1,0 6.2,0a3.1,3.1 0 1,0 -6.2,0M753.7,853.8a3.1,3.1 0 1,0 6.2,0a3.1,3.1 0 1,0 -6.2,0M756.3,860.9a3.1,3.1 0 1,0 6.2,0a3.1,3.1 0 1,0 -6.2,0M758.9,867.2a3.1,3.1 0 1,0 6.2,0a3.1,3.1 0 1,0 -6.2,0M761.5,872.3a3.1,3.1 0 1,0 6.2,0a3.1,3.1 0 1,0 -6.2,0M764.1,874.3a3.1,3.1 0 1,0 6.2,0a3.1,3.1 0 1,0 -6.2,0M766.7,873.4a3.1,3.1 0 1,0 6.2,0a3.1,3.1 0 1,0 -6.2,0M769.3,870.4a3.1,3.1 0 1,0 6.2,0a3.1,3.1 0 1,0 -6.2,0M771.9,865.5a3.1,3.1 0 1,0 6.2,0a3.1,3.1 0 1,0 -6.2,0M774.5,857.1a3.1,3.1 0 1,0 6.2,0a3.1,3.1 0 1,0 -6.2,0M777.1,845.2a3.1,3.1 0 1,0 6.2,0a3.1,3.1 0 1,0 -6.2,0M779.7,832.7a3.1,3.1 0 1,0 6.2,0a3.1,3.1 0 1,0 -6.2,0M782.3,819.9a3.1,3.1 0 1,0 6.2,0a3.1,3.1 0 1,0 -6.2,0M784.9,815.8a3.1,3.1 0 1,0 6.2,0a3.1,3.1 0 1,0 -6.2,0" fill="#8FC31F"/>
<polyline points="463.8,1004.7 464.3,1003.9 464.9,1003.3 465.4,1002.7 466.0,1002.3 466.5,1002.0 467.0,1001.8 467.6,1001.7 468.1,1001.7 468.7,1001.8 469.2,1002.0 469.8,1002.3 470.3,1002.7 470.8,1003.3 471.4,1003.9 471.9,1004.6 472.5,1005.4 473.0,1006.3 473.5,1007.2 474.1,1008.1 474.6,1009.0 475.2,1009.8 475.7,1010.6 476.2,1011.2 476.8,1011.7 477.3,1012.1 477.9,1012.3 478.4,1012.4 479.0,1012.4 479.5,1012.2 480.0,1011.9 480.6,1011.4 481.1,1010.8 481.7,1010.2 482.2,1009.4 482.7,1008.5 483.3,1007.6 483.8,1006.7 484.4,1005.7 484.9,1004.7 485.4,1003.8 486.0,1002.8 486.5,1002.0 487.1,1001.2 487.6,1000.5 488.2,1000.0 488.7,999.6 489.2,999.4 489.8,999.4 490.3,999.6 490.9,1000.1 491.4,1000.7 491.9,1001.5 492.5,1002.5 493.0,1003.7 493.6,1005.1 494.1,1006.6 494.7,1008.2 495.2,1009.7 495.7,1011.2 496.3,1012.6 496.8,1013.9 497.4,1014.9 497.9,1015.8 498.4,1016.5 499.0,1017.0 499.5,1017.3 500.1,1017.4 500.6,1017.3 501.1,1016.8 501.7,1015.9 502.2,1014.6 502.8,1012.7 503.3,1010.3 503.9,1007.4 504.4,1004.2 504.9,1001.1 505.5,998.2 506.0,995.6 506.6,993.2 507.1,990.8 507.6,988.6 508.2,986.2 508.7,983.9 509.3,981.6 509.8,979.5 510.3,977.8 510.9,976.4 511.4,975.6 512.0,975.3 512.5,975.4 513.1,976.1 513.6,977.3 514.1,979.0 514.7,981.3 515.2,984.2 515.8,987.7 516.3,991.8 516.8,996.4 517.4,1001.3 517.9,1006.4 518.5,1011.7 519.0,1017.0 519.5,1022.4 520.1,1027.6 520.6,1032.8 521.2,1037.7 521.7,1042.1 522.3,1045.9 522.8,1048.9 523.3,1051.1 523.9,1052.7 524.4,1053.7 525.0,1054.2 525.5,1054.3 526.0,1054.1 526.6,1053.5 527.1,1052.4 527.7,1050.6 528.2,1048.0 528.7,1044.4 529.3,1040.0 529.8,1034.9 530.4,1029.3 530.9,1023.3 531.5,1017.1 532.0,1010.8 532.5,1004.6 533.1,998.5 533.6,992.6 534.2,986.9 534.7,981.5 535.2,976.2 535.8,971.2 536.3,966.2 536.9,961.6 537.4,957.5 537.9,954.1 538.5,951.6 539.0,950.0 539.6,949.3 540.1,949.2 540.7,949.6 541.2,950.5 541.7,951.7 542.3,953.3 542.8,955.5 543.4,958.6 543.9,962.6 544.4,967.7 545.0,973.6 545.5,979.7 546.1,985.8 546.6,991.6 547.2,997.0 547.7,1002.3 548.2,1007.6 548.8,1012.9 549.3,1018.5 549.9,1024.1 550.4,1029.4 550.9,1034.2 551.5,1038.4 552.0,1041.9 552.6,1044.7 553.1,1047.1 553.6,1048.9 554.2,1050.2 554.7,1051.2 555.3,1051.8 555.8,1052.0 556.4,1052.0 556.9,1051.6 557.4,1050.9 558.0,1049.8 558.5,1048.1 559.1,1046.0 559.6,1043.2 560.1,1039.9 560.7,1036.2 561.2,1032.3 561.8,1028.2 562.3,1024.1 562.8,1019.9 563.4,1015.6 563.9,1011.1 564.5,1006.5 565.0,1001.9 565.6,997.5 566.1,993.4 566.6,989.9 567.2,986.9 567.7,984.2 568.3,981.9 568.8,979.8 569.3,977.9 569.9,976.2 570.4,974.7 571.0,973.3 571.5,972.2 572.0,971.3 572.6,970.7 573.1,970.2 573.7,970.1 574.2,970.2 574.8,970.6 575.3,971.4 575.8,972.5 576.4,973.9 576.9,975.7 577.5,977.9 578.0,980.3 578.5,982.9 579.1,985.5 579.6,988.0 580.2,990.6 580.7,993.2 581.2,996.0 581.8,999.0 582.3,1002.2 582.9,1005.8 583.4,1009.4 584.0,1013.0 584.5,1016.4 585.0,1019.6 585.6,1022.4 586.1,1024.9 586.7,1027.1 587.2,1028.9 587.7,1030.4 588.3,1031.5 588.8,1032.4 589.4,1033.1 589.9,1033.5 590.4,1033.8 591.0,1033.8 591.5,1033.6 592.1,1033.2 592.6,1032.5 593.2,1031.5 593.7,1030.3 594.2,1028.9 594.8,1027.3 595.3,1025.5 595.9,1023.6 596.4,1021.4 596.9,1019.0 597.5,1016.2 598.0,1013.3 598.6,1010.2 599.1,1007.2 599.7,1004.4 600.2,1001.8 600.7,999.5 601.3,997.5 601.8,995.8 602.4,994.4 602.9,993.3 603.4,992.5 604.0,991.8 604.5,991.4 605.1,991.2 605.6,991.0 606.1,991.0 606.7,991.1 607.2,991.4 607.8,991.8 608.3,992.3 608.9,993.0 609.4,993.9 609.9,994.9 610.5,996.0 611.0,997.2 611.6,998.3 612.1,999.4 612.6,1000.4 613.2,1001.2 613.7,1002.0 614.3,1002.6 614.8,1003.1 615.3,1003.6 615.9,1003.9 616.4,1004.1 617.0,1004.3 617.5,1004.4 618.1,1004.4 618.6,1004.4 619.1,1004.3 619.7,1004.2 620.2,1004.0 620.8,1003.8 621.3,1003.5 621.8,1003.3 622.4,1003.0 622.9,1002.8 623.5,1002.6 624.0,1002.5 624.5,1002.4 625.1,1002.4 625.6,1002.5 626.2,1002.7 626.7,1002.9 627.3,1003.3 627.8,1003.7 628.3,1004.2 628.9,1004.8 629.4,1005.4 630.0,1006.1 630.5,1006.9 631.0,1007.8 631.6,1008.7 632.1,1009.6 632.7,1010.5 633.2,1011.4 633.7,1012.3 634.3,1013.2 634.8,1014.1 635.4,1014.8 635.9,1015.5 636.5,1016.0 637.0,1016.4 637.5,1016.7 638.1,1016.7 638.6,1016.6 639.2,1016.3 639.7,1015.9 640.2,1015.3 640.8,1014.6 641.3,1013.8 641.9,1013.0 642.4,1012.0 642.9,1011.1 643.5,1010.1 644.0,1009.1 644.6,1008.0 645.1,1007.1 645.7,1006.1 646.2,1005.2 646.7,1004.3 647.3,1003.5 647.8,1002.7 648.4,1001.9 648.9,1001.2 649.4,1000.5 650.0,999.9 650.5,999.3 651.1,998.7 651.6,998.2 652.1,997.7 652.7,997.3 653.2,996.8 653.8,996.4 654.3,996.1 654.9,995.7 655.4,995.4 655.9,995.0 656.5,994.7 657.0,994.4 657.6,994.2 658.1,994.0 658.6,993.8 659.2,993.6 659.7,993.5 660.3,993.4 660.8,993.3 661.4,993.3 661.9,993.4 662.4,993.5 663.0,993.7 663.5,994.0 664.1,994.3 664.6,994.8 665.1,995.4 665.7,996.0 666.2,996.8 666.8,997.7 667.3,998.6 667.8,999.6 668.4,1000.7 668.9,1001.8 669.5,1003.0 670.0,1004.4 670.6,1006.0 671.1,1007.7 671.6,1009.7 672.2,1012.0 672.7,1014.4 673.3,1016.9 673.8,1019.2 674.3,1021.4 674.9,1023.3 675.4,1024.9 676.0,1026.1 676.5,1027.1 677.0,1027.9 677.6,1028.4 678.1,1028.6 678.7,1028.8 679.2,1028.7 679.8,1028.3 680.3,1027.8 680.8,1027.0 681.4,1025.9 681.9,1024.4 682.5,1022.7 683.0,1020.6 683.5,1018.0 684.1,1015.0 684.6,1011.6 685.2,1007.9 685.7,1004.3 686.2,1001.3 686.8,999.2 687.3,997.9 687.9,996.8 688.4,995.2 689.0,992.9 689.5,990.4 690.0,988.0 690.6,986.0 691.1,984.6 691.7,983.7 692.2,983.2 692.7,983.0 693.3,982.9 693.8,982.9 694.4,982.9 694.9,983.0 695.4,983.2 696.0,983.6 696.5,984.3 697.1,985.2 697.6,986.5 698.2,988.1 698.7,989.9 699.2,991.9 699.8,994.1 700.3,996.3 700.9,998.5 701.4,1000.6 701.9,1002.5 702.5,1004.3 703.0,1006.0 703.6,1007.4 704.1,1008.8 704.6,1010.1 705.2,1011.2 705.7,1012.2 706.3,1013.2 706.8,1014.0 707.4,1014.7 707.9,1015.2 708.4,1015.7 709.0,1016.0 709.5,1016.2 710.1,1016.3 710.6,1016.3 711.1,1016.2 711.7,1016.1 712.2,1016.0 712.8,1015.7 713.3,1015.5 713.9,1015.2 714.4,1014.9 714.9,1014.6 715.5,1014.3 716.0,1014.0 716.6,1013.7 717.1,1013.4 717.6,1013.1 718.2,1012.9 718.7,1012.6 719.3,1012.3 719.8,1012.0 720.3,1011.7 720.9,1011.3 721.4,1011.0 722.0,1010.6 722.5,1010.1 723.1,1009.7 723.6,1009.2 724.1,1008.6 724.7,1008.0 725.2,1007.3 725.8,1006.6 726.3,1005.8 726.8,1004.9 727.4,1004.0 727.9,1003.1 728.5,1002.2 729.0,1001.3 729.5,1000.3 730.1,999.4 730.6,998.6 731.2,997.8 731.7,997.0 732.3,996.3 732.8,995.7 733.3,995.1 733.9,994.6 734.4,994.3 735.0,994.0 735.5,993.9 736.0,993.9 736.6,994.0 737.1,994.2 737.7,994.5 738.2,994.9 738.7,995.5 739.3,996.1 739.8,996.8 740.4,997.6 740.9,998.5 741.5,999.4 742.0,1000.4 742.5,1001.5 743.1,1002.5 743.6,1003.6 744.2,1004.7 744.7,1005.8 745.2,1006.9 745.8,1007.9 746.3,1008.8 746.9,1009.6 747.4,1010.3 747.9,1010.9 748.5,1011.3 749.0,1011.7 749.6,1011.9 750.1,1012.0 750.7,1012.1 751.2,1012.0 751.7,1011.9 752.3,1011.8 752.8,1011.6 753.4,1011.3 753.9,1011.0 754.4,1010.8 755.0,1010.5 755.5,1010.2 756.1,1010.0 756.6,1009.7 757.1,1009.6 757.7,1009.5 758.2,1009.5 758.8,1009.5 759.3,1009.6 759.9,1009.8 760.4,1010.0 760.9,1010.3 761.5,1010.7 762.0,1011.1 762.6,1011.5 763.1,1012.0 763.6,1012.5 764.2,1013.0 764.7,1013.5 765.3,1013.9 765.8,1014.3 766.4,1014.6 766.9,1014.8 767.4,1014.8 768.0,1014.7 768.5,1014.4 769.1,1014.0 769.6,1013.3 770.1,1012.6 770.7,1011.6 771.2,1010.6 771.8,1009.4 772.3,1008.0 772.8,1006.6 773.4,1005.0 773.9,1003.4 774.5,1001.8 775.0,1000.1 775.6,998.5 776.1,996.8 776.6,995.2 777.2,993.7 777.7,992.2 778.3,990.8 778.8,989.6 779.3,988.5 779.9,987.5 780.4,986.7 781.0,986.0 781.5,985.5 782.0,985.1 782.6,984.9 783.1,984.8 783.7,984.9 784.2,985.3 784.8,985.8 785.3,986.6 785.8,987.6 786.4,988.8 786.9,990.3 787.5,992.0 788.0,994.0" fill="none" stroke="#E60012" stroke-width="3.6" stroke-linejoin="round" stroke-linecap="round"/>
<path d="M462.4,1002.7a3.1,3.1 0 1,0 6.2,0a3.1,3.1 0 1,0 -6.2,0M465.0,1001.7a3.1,3.1 0 1,0 6.2,0a3.1,3.1 0 1,0 -6.2,0M467.6,1003.1a3.1,3.1 0 1,0 6.2,0a3.1,3.1 0 1,0 -6.2,0M470.2,1006.8a3.1,3.1 0 1,0 6.2,0a3.1,3.1 0 1,0 -6.2,0M472.8,1010.8a3.1,3.1 0 1,0 6.2,0a3.1,3.1 0 1,0 -6.2,0M475.4,1012.4a3.1,3.1 0 1,0 6.2,0a3.1,3.1 0 1,0 -6.2,0M478.0,1010.9a3.1,3.1 0 1,0 6.2,0a3.1,3.1 0 1,0 -6.2,0M480.6,1006.9a3.1,3.1 0 1,0 6.2,0a3.1,3.1 0 1,0 -6.2,0M483.2,1002.3a3.1,3.1 0 1,0 6.2,0a3.1,3.1 0 1,0 -6.2,0M485.8,999.5a3.1,3.1 0 1,0 6.2,0a3.1,3.1 0 1,0 -6.2,0M488.4,1000.8a3.1,3.1 0 1,0 6.2,0a3.1,3.1 0 1,0 -6.2,0M491.0,1006.6a3.1,3.1 0 1,0 6.2,0a3.1,3.1 0 1,0 -6.2,0M493.6,1013.6a3.1,3.1 0 1,0 6.2,0a3.1,3.1 0 1,0 -6.2,0M496.2,1017.2a3.1,3.1 0 1,0 6.2,0a3.1,3.1 0 1,0 -6.2,0M498.8,1015.4a3.1,3.1 0 1,0 6.2,0a3.1,3.1 0 1,0 -6.2,0M501.4,1003.5a3.1,3.1 0 1,0 6.2,0a3.1,3.1 0 1,0 -6.2,0M504.0,990.8a3.1,3.1 0 1,0 6.2,0a3.1,3.1 0 1,0 -6.2,0M506.6,979.8a3.1,3.1 0 1,0 6.2,0a3.1,3.1 0 1,0 -6.2,0M509.2,975.3a3.1,3.1 0 1,0 6.2,0a3.1,3.1 0 1,0 -6.2,0M511.8,982.5a3.1,3.1 0 1,0 6.2,0a3.1,3.1 0 1,0 -6.2,0M514.4,1002.5a3.1,3.1 0 1,0 6.2,0a3.1,3.1 0 1,0 -6.2,0M517.0,1027.9a3.1,3.1 0 1,0 6.2,0a3.1,3.1 0 1,0 -6.2,0M519.6,1048.5a3.1,3.1 0 1,0 6.2,0a3.1,3.1 0 1,0 -6.2,0M522.2,1054.3a3.1,3.1 0 1,0 6.2,0a3.1,3.1 0 1,0 -6.2,0M524.8,1049.5a3.1,3.1 0 1,0 6.2,0a3.1,3.1 0 1,0 -6.2,0M527.4,1027.7a3.1,3.1 0 1,0 6.2,0a3.1,3.1 0 1,0 -6.2,0M530.0,998.0a3.1,3.1 0 1,0 6.2,0a3.1,3.1 0 1,0 -6.2,0M532.6,971.7a3.1,3.1 0 1,0 6.2,0a3.1,3.1 0 1,0 -6.2,0M535.2,952.2a3.1,3.1 0 1,0 6.2,0a3.1,3.1 0 1,0 -6.2,0M537.8,950.0a3.1,3.1 0 1,0 6.2,0a3.1,3.1 0 1,0 -6.2,0M540.4,959.7a3.1,3.1 0 1,0 6.2,0a3.1,3.1 0 1,0 -6.2,0M543.0,986.5a3.1,3.1 0 1,0 6.2,0a3.1,3.1 0 1,0 -6.2,0M545.6,1012.5a3.1,3.1 0 1,0 6.2,0a3.1,3.1 0 1,0 -6.2,0M548.2,1037.3a3.1,3.1 0 1,0 6.2,0a3.1,3.1 0 1,0 -6.2,0M550.8,1049.6a3.1,3.1 0 1,0 6.2,0a3.1,3.1 0 1,0 -6.2,0M553.4,1051.9a3.1,3.1 0 1,0 6.2,0a3.1,3.1 0 1,0 -6.2,0M556.0,1045.6a3.1,3.1 0 1,0 6.2,0a3.1,3.1 0 1,0 -6.2,0M558.6,1028.5a3.1,3.1 0 1,0 6.2,0a3.1,3.1 0 1,0 -6.2,0M561.2,1007.7a3.1,3.1 0 1,0 6.2,0a3.1,3.1 0 1,0 -6.2,0M563.8,988.2a3.1,3.1 0 1,0 6.2,0a3.1,3.1 0 1,0 -6.2,0M566.4,977.3a3.1,3.1 0 1,0 6.2,0a3.1,3.1 0 1,0 -6.2,0M569.0,971.2a3.1,3.1 0 1,0 6.2,0a3.1,3.1 0 1,0 -6.2,0M571.6,970.6a3.1,3.1 0 1,0 6.2,0a3.1,3.1 0 1,0 -6.2,0M574.2,977.4a3.1,3.1 0 1,0 6.2,0a3.1,3.1 0 1,0 -6.2,0M576.8,989.5a3.1,3.1 0 1,0 6.2,0a3.1,3.1 0 1,0 -6.2,0M579.4,1003.6a3.1,3.1 0 1,0 6.2,0a3.1,3.1 0 1,0 -6.2,0M582.0,1020.1a3.1,3.1 0 1,0 6.2,0a3.1,3.1 0 1,0 -6.2,0M584.6,1030.3a3.1,3.1 0 1,0 6.2,0a3.1,3.1 0 1,0 -6.2,0M587.2,1033.7a3.1,3.1 0 1,0 6.2,0a3.1,3.1 0 1,0 -6.2,0M589.8,1031.9a3.1,3.1 0 1,0 6.2,0a3.1,3.1 0 1,0 -6.2,0M592.4,1024.7a3.1,3.1 0 1,0 6.2,0a3.1,3.1 0 1,0 -6.2,0M595.0,1012.6a3.1,3.1 0 1,0 6.2,0a3.1,3.1 0 1,0 -6.2,0M597.6,999.5a3.1,3.1 0 1,0 6.2,0a3.1,3.1 0 1,0 -6.2,0M600.2,992.6a3.1,3.1 0 1,0 6.2,0a3.1,3.1 0 1,0 -6.2,0M602.8,991.0a3.1,3.1 0 1,0 6.2,0a3.1,3.1 0 1,0 -6.2,0M605.4,992.6a3.1,3.1 0 1,0 6.2,0a3.1,3.1 0 1,0 -6.2,0M608.0,997.5a3.1,3.1 0 1,0 6.2,0a3.1,3.1 0 1,0 -6.2,0M610.6,1002.0a3.1,3.1 0 1,0 6.2,0a3.1,3.1 0 1,0 -6.2,0M613.2,1004.1a3.1,3.1 0 1,0 6.2,0a3.1,3.1 0 1,0 -6.2,0M615.8,1004.3a3.1,3.1 0 1,0 6.2,0a3.1,3.1 0 1,0 -6.2,0M618.4,1003.4a3.1,3.1 0 1,0 6.2,0a3.1,3.1 0 1,0 -6.2,0M621.0,1002.5a3.1,3.1 0 1,0 6.2,0a3.1,3.1 0 1,0 -6.2,0M623.7,1003.0a3.1,3.1 0 1,0 6.2,0a3.1,3.1 0 1,0 -6.2,0M626.3,1005.3a3.1,3.1 0 1,0 6.2,0a3.1,3.1 0 1,0 -6.2,0M628.9,1009.3a3.1,3.1 0 1,0 6.2,0a3.1,3.1 0 1,0 -6.2,0M631.5,1013.6a3.1,3.1 0 1,0 6.2,0a3.1,3.1 0 1,0 -6.2,0M634.1,1016.5a3.1,3.1 0 1,0 6.2,0a3.1,3.1 0 1,0 -6.2,0M636.7,1015.8a3.1,3.1 0 1,0 6.2,0a3.1,3.1 0 1,0 -6.2,0M639.3,1012.1a3.1,3.1 0 1,0 6.2,0a3.1,3.1 0 1,0 -6.2,0M641.9,1007.3a3.1,3.1 0 1,0 6.2,0a3.1,3.1 0 1,0 -6.2,0M644.5,1003.0a3.1,3.1 0 1,0 6.2,0a3.1,3.1 0 1,0 -6.2,0M647.1,999.7a3.1,3.1 0 1,0 6.2,0a3.1,3.1 0 1,0 -6.2,0M649.7,997.2a3.1,3.1 0 1,0 6.2,0a3.1,3.1 0 1,0 -6.2,0M652.3,995.4a3.1,3.1 0 1,0 6.2,0a3.1,3.1 0 1,0 -6.2,0M654.9,994.0a3.1,3.1 0 1,0 6.2,0a3.1,3.1 0 1,0 -6.2,0M657.5,993.4a3.1,3.1 0 1,0 6.2,0a3.1,3.1 0 1,0 -6.2,0M660.1,993.8a3.1,3.1 0 1,0 6.2,0a3.1,3.1 0 1,0 -6.2,0M662.7,996.1a3.1,3.1 0 1,0 6.2,0a3.1,3.1 0 1,0 -6.2,0M665.3,1000.6a3.1,3.1 0 1,0 6.2,0a3.1,3.1 0 1,0 -6.2,0M667.9,1007.3a3.1,3.1 0 1,0 6.2,0a3.1,3.1 0 1,0 -6.2,0M670.5,1018.2a3.1,3.1 0 1,0 6.2,0a3.1,3.1 0 1,0 -6.2,0M673.1,1026.5a3.1,3.1 0 1,0 6.2,0a3.1,3.1 0 1,0 -6.2,0M675.7,1028.7a3.1,3.1 0 1,0 6.2,0a3.1,3.1 0 1,0 -6.2,0M678.3,1025.9a3.1,3.1 0 1,0 6.2,0a3.1,3.1 0 1,0 -6.2,0M680.9,1015.7a3.1,3.1 0 1,0 6.2,0a3.1,3.1 0 1,0 -6.2,0M683.5,999.9a3.1,3.1 0 1,0 6.2,0a3.1,3.1 0 1,0 -6.2,0M686.1,991.9a3.1,3.1 0 1,0 6.2,0a3.1,3.1 0 1,0 -6.2,0M688.7,983.6a3.1,3.1 0 1,0 6.2,0a3.1,3.1 0 1,0 -6.2,0M691.3,982.9a3.1,3.1 0 1,0 6.2,0a3.1,3.1 0 1,0 -6.2,0M693.9,985.0a3.1,3.1 0 1,0 6.2,0a3.1,3.1 0 1,0 -6.2,0M696.5,993.3a3.1,3.1 0 1,0 6.2,0a3.1,3.1 0 1,0 -6.2,0M699.1,1003.3a3.1,3.1 0 1,0 6.2,0a3.1,3.1 0 1,0 -6.2,0M701.7,1010.3a3.1,3.1 0 1,0 6.2,0a3.1,3.1 0 1,0 -6.2,0M704.3,1014.7a3.1,3.1 0 1,0 6.2,0a3.1,3.1 0 1,0 -6.2,0M706.9,1016.3a3.1,3.1 0 1,0 6.2,0a3.1,3.1 0 1,0 -6.2,0M709.5,1015.8a3.1,3.1 0 1,0 6.2,0a3.1,3.1 0 1,0 -6.2,0M712.1,1014.5a3.1,3.1 0 1,0 6.2,0a3.1,3.1 0 1,0 -6.2,0M714.7,1013.1a3.1,3.1 0 1,0 6.2,0a3.1,3.1 0 1,0 -6.2,0M717.3,1011.7a3.1,3.1 0 1,0 6.2,0a3.1,3.1 0 1,0 -6.2,0M719.9,1009.7a3.1,3.1 0 1,0 6.2,0a3.1,3.1 0 1,0 -6.2,0M722.5,1006.8a3.1,3.1 0 1,0 6.2,0a3.1,3.1 0 1,0 -6.2,0M725.1,1002.7a3.1,3.1 0 1,0 6.2,0a3.1,3.1 0 1,0 -6.2,0M727.7,998.3a3.1,3.1 0 1,0 6.2,0a3.1,3.1 0 1,0 -6.2,0M730.3,995.1a3.1,3.1 0 1,0 6.2,0a3.1,3.1 0 1,0 -6.2,0M732.9,993.9a3.1,3.1 0 1,0 6.2,0a3.1,3.1 0 1,0 -6.2,0M735.5,995.3a3.1,3.1 0 1,0 6.2,0a3.1,3.1 0 1,0 -6.2,0M738.1,999.0a3.1,3.1 0 1,0 6.2,0a3.1,3.1 0 1,0 -6.2,0M740.7,1004.0a3.1,3.1 0 1,0 6.2,0a3.1,3.1 0 1,0 -6.2,0M743.3,1008.9a3.1,3.1 0 1,0 6.2,0a3.1,3.1 0 1,0 -6.2,0M745.9,1011.7a3.1,3.1 0 1,0 6.2,0a3.1,3.1 0 1,0 -6.2,0M748.5,1012.0a3.1,3.1 0 1,0 6.2,0a3.1,3.1 0 1,0 -6.2,0M751.1,1010.9a3.1,3.1 0 1,0 6.2,0a3.1,3.1 0 1,0 -6.2,0M753.7,1009.7a3.1,3.1 0 1,0 6.2,0a3.1,3.1 0 1,0 -6.2,0M756.3,1009.6a3.1,3.1 0 1,0 6.2,0a3.1,3.1 0 1,0 -6.2,0M758.9,1011.0a3.1,3.1 0 1,0 6.2,0a3.1,3.1 0 1,0 -6.2,0M761.5,1013.3a3.1,3.1 0 1,0 6.2,0a3.1,3.1 0 1,0 -6.2,0M764.1,1014.8a3.1,3.1 0 1,0 6.2,0a3.1,3.1 0 1,0 -6.2,0M766.7,1013.1a3.1,3.1 0 1,0 6.2,0a3.1,3.1 0 1,0 -6.2,0M769.3,1007.8a3.1,3.1 0 1,0 6.2,0a3.1,3.1 0 1,0 -6.2,0M771.9,1000.2a3.1,3.1 0 1,0 6.2,0a3.1,3.1 0 1,0 -6.2,0M774.5,992.5a3.1,3.1 0 1,0 6.2,0a3.1,3.1 0 1,0 -6.2,0M777.1,987.0a3.1,3.1 0 1,0 6.2,0a3.1,3.1 0 1,0 -6.2,0M779.7,984.8a3.1,3.1 0 1,0 6.2,0a3.1,3.1 0 1,0 -6.2,0M782.3,986.8a3.1,3.1 0 1,0 6.2,0a3.1,3.1 0 1,0 -6.2,0M784.9,994.0a3.1,3.1 0 1,0 6.2,0a3.1,3.1 0 1,0 -6.2,0" fill="#E60012"/>
<path d="M570.8,816.8 L591.4,816.8 L580.9,835.3 Z" fill="#8FC31F" stroke="#000" stroke-width="1.5" stroke-linejoin="miter"/></svg>
</body></html>
